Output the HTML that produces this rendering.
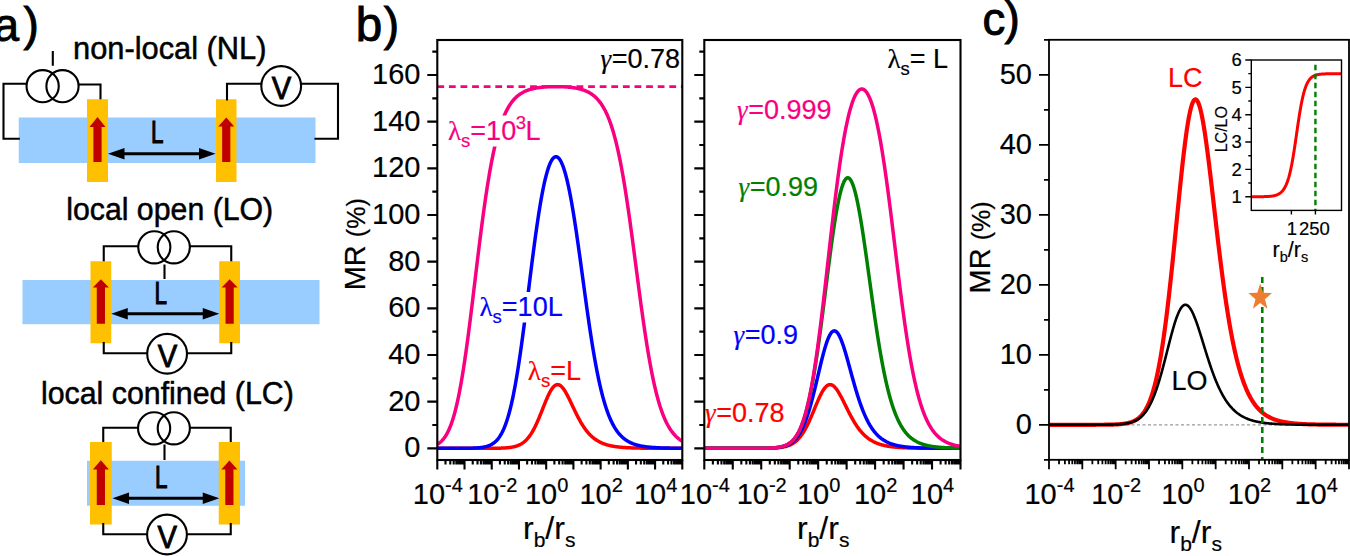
<!DOCTYPE html>
<html><head><meta charset="utf-8"><style>
html,body{margin:0;padding:0;background:#fff;}
svg{display:block;}
text{font-family:"Liberation Sans", sans-serif;}
</style></head><body>
<svg width="1350" height="556" viewBox="0 0 1350 556">
<rect width="1350" height="556" fill="#fff"/>
<rect x="18.75" y="117.5" width="296.75" height="45.5" fill="#99CCFF"/>
<path d="M26.00,83.80 L3.50,83.80 L3.50,138.80 L18.75,138.80" fill="none" stroke="#000" stroke-width="2.1" stroke-linejoin="miter" stroke-linecap="square"/>
<path d="M79.30,84.50 L100.50,84.50 L100.50,99.50" fill="none" stroke="#000" stroke-width="2.1" stroke-linejoin="miter" stroke-linecap="square"/>
<line x1="52.8" y1="51" x2="52.8" y2="65.8" stroke="#000" stroke-width="2.1"/>
<circle cx="42.65" cy="86.2" r="16.1" fill="none" stroke="#000" stroke-width="2.1"/>
<circle cx="62.5" cy="86.2" r="16.1" fill="none" stroke="#000" stroke-width="2.1"/>
<rect x="87" y="99.25" width="21" height="82.75" fill="#FFC000"/>
<path d="M93.4,162 L93.4,127 L89.5,127 L97.5,117 L105.5,127 L101.6,127 L101.6,162 Z" fill="#C00000"/>
<rect x="216" y="99.25" width="20.5" height="82.75" fill="#FFC000"/>
<path d="M222.15,162 L222.15,126.5 L218.25,126.5 L226.25,117.5 L234.25,126.5 L230.35,126.5 L230.35,162 Z" fill="#C00000"/>
<path d="M227.00,99.50 L227.00,83.80 L262.00,83.80" fill="none" stroke="#000" stroke-width="2.1" stroke-linejoin="miter" stroke-linecap="square"/>
<path d="M301.00,83.80 L338.00,83.80 L338.00,138.80 L315.50,138.80" fill="none" stroke="#000" stroke-width="2.1" stroke-linejoin="miter" stroke-linecap="square"/>
<circle cx="281.2" cy="86" r="19.9" fill="#fff" stroke="#000" stroke-width="2.1"/>
<text x="281.50" y="99.30" font-size="32" text-anchor="middle" textLength="19.5" lengthAdjust="spacingAndGlyphs" stroke="#000" stroke-width="0.9">V</text>
<text x="150.90" y="143" font-size="31.5" textLength="12.5" lengthAdjust="spacingAndGlyphs" stroke="#000" stroke-width="1.1">L</text>
<line x1="122.5" y1="153.75" x2="201.0" y2="153.75" stroke="#000" stroke-width="3.0"/>
<path d="M108,153.75 L124.5,147.95 L124.5,159.55 Z" fill="#000"/>
<path d="M215.5,153.75 L199.0,147.95 L199.0,159.55 Z" fill="#000"/>
<rect x="22.5" y="280" width="297.0" height="44.19999999999999" fill="#99CCFF"/>
<path d="M103.75,261.50 L103.75,246.30 L138.00,246.30" fill="none" stroke="#000" stroke-width="2.1" stroke-linejoin="miter" stroke-linecap="square"/>
<path d="M190.00,246.30 L231.25,246.30 L231.25,261.50" fill="none" stroke="#000" stroke-width="2.1" stroke-linejoin="miter" stroke-linecap="square"/>
<line x1="164.5" y1="264.5" x2="164.5" y2="279" stroke="#000" stroke-width="2.1"/>
<circle cx="154.3" cy="247.3" r="16.1" fill="none" stroke="#000" stroke-width="2.1"/>
<circle cx="173.8" cy="247.3" r="16.1" fill="none" stroke="#000" stroke-width="2.1"/>
<rect x="90.5" y="261.25" width="20.75" height="82.0" fill="#FFC000"/>
<path d="M96.775,323.75 L96.775,287.5 L92.875,287.5 L100.875,279.2 L108.875,287.5 L104.975,287.5 L104.975,323.75 Z" fill="#C00000"/>
<rect x="219.25" y="261.25" width="20.75" height="82.0" fill="#FFC000"/>
<path d="M225.525,323.75 L225.525,287.5 L221.625,287.5 L229.625,279.2 L237.625,287.5 L233.725,287.5 L233.725,323.75 Z" fill="#C00000"/>
<path d="M103.75,343.00 L103.75,353.30 L231.25,353.30 L231.25,343.00" fill="none" stroke="#000" stroke-width="2.1" stroke-linejoin="miter" stroke-linecap="square"/>
<circle cx="167.1" cy="353.75" r="19.9" fill="#fff" stroke="#000" stroke-width="2.1"/>
<text x="167.40" y="367.05" font-size="32" text-anchor="middle" textLength="19.5" lengthAdjust="spacingAndGlyphs" stroke="#000" stroke-width="0.9">V</text>
<text x="154.40" y="303.75" font-size="31.5" textLength="12.5" lengthAdjust="spacingAndGlyphs" stroke="#000" stroke-width="1.1">L</text>
<line x1="125.75" y1="313.75" x2="204.75" y2="313.75" stroke="#000" stroke-width="3.0"/>
<path d="M111.25,313.75 L127.75,307.95 L127.75,319.55 Z" fill="#000"/>
<path d="M219.25,313.75 L202.75,307.95 L202.75,319.55 Z" fill="#000"/>
<rect x="87" y="460.75" width="158" height="45.0" fill="#99CCFF"/>
<path d="M103.25,442.50 L103.25,427.70 L138.00,427.70" fill="none" stroke="#000" stroke-width="2.1" stroke-linejoin="miter" stroke-linecap="square"/>
<path d="M190.00,427.70 L230.75,427.70 L230.75,442.50" fill="none" stroke="#000" stroke-width="2.1" stroke-linejoin="miter" stroke-linecap="square"/>
<line x1="164.5" y1="444.5" x2="164.5" y2="460" stroke="#000" stroke-width="2.1"/>
<circle cx="154.1" cy="428.3" r="16.1" fill="none" stroke="#000" stroke-width="2.1"/>
<circle cx="173.8" cy="428.3" r="16.1" fill="none" stroke="#000" stroke-width="2.1"/>
<rect x="90" y="442" width="21.75" height="82.5" fill="#FFC000"/>
<path d="M96.775,505 L96.775,469.5 L92.875,469.5 L100.875,460.2 L108.875,469.5 L104.975,469.5 L104.975,505 Z" fill="#C00000"/>
<rect x="218.75" y="442" width="21.25" height="82.5" fill="#FFC000"/>
<path d="M225.275,505 L225.275,469.5 L221.375,469.5 L229.375,460.5 L237.375,469.5 L233.475,469.5 L233.475,505 Z" fill="#C00000"/>
<path d="M103.25,524.00 L103.25,534.30 L230.75,534.30 L230.75,524.00" fill="none" stroke="#000" stroke-width="2.1" stroke-linejoin="miter" stroke-linecap="square"/>
<circle cx="167" cy="534.5" r="19.9" fill="#fff" stroke="#000" stroke-width="2.1"/>
<text x="167.30" y="547.80" font-size="32" text-anchor="middle" textLength="19.5" lengthAdjust="spacingAndGlyphs" stroke="#000" stroke-width="0.9">V</text>
<text x="154.90" y="488.25" font-size="31.5" textLength="12.5" lengthAdjust="spacingAndGlyphs" stroke="#000" stroke-width="1.1">L</text>
<line x1="127.0" y1="498.25" x2="204.75" y2="498.25" stroke="#000" stroke-width="3.0"/>
<path d="M112.5,498.25 L129.0,492.45 L129.0,504.05 Z" fill="#000"/>
<path d="M219.25,498.25 L202.75,492.45 L202.75,504.05 Z" fill="#000"/>
<text stroke="#000" stroke-width="0.5" x="73" y="58.9" font-size="31" textLength="193.5" lengthAdjust="spacingAndGlyphs">non-local (NL)</text>
<text stroke="#000" stroke-width="0.5" x="66.2" y="220" font-size="31" textLength="207" lengthAdjust="spacingAndGlyphs">local open (LO)</text>
<text stroke="#000" stroke-width="0.5" x="41" y="403.6" font-size="31" textLength="252.8" lengthAdjust="spacingAndGlyphs">local confined (LC)</text>
<text stroke="#000" stroke-width="0.9" x="-6.3" y="40.7" font-size="45.5">a</text><text stroke="#000" stroke-width="0.9" x="23.5" y="39.6" font-size="46">)</text>
<text stroke="#000" stroke-width="0.9" x="355.7" y="40.6" font-size="47.6">b</text><text stroke="#000" stroke-width="0.9" x="383.8" y="39.6" font-size="46">)</text>
<text stroke="#000" stroke-width="0.9" x="982.6" y="34.5" font-size="45.6">c</text><text stroke="#000" stroke-width="0.9" x="1004.5" y="34" font-size="46">)</text>
<clipPath id="cb1"><rect x="437.3" y="40" width="244.99999999999994" height="420"/></clipPath>
<clipPath id="cb2"><rect x="704.3" y="40" width="256.20000000000005" height="420"/></clipPath>
<clipPath id="cc"><rect x="1049" y="39.8" width="300" height="420"/></clipPath>
<clipPath id="ci"><rect x="1251.3" y="60" width="90.20000000000005" height="150.4"/></clipPath>
<line x1="437.3" y1="86.63" x2="682.3" y2="86.63" stroke="#F80080" stroke-width="2.7" stroke-dasharray="6.8 4.8"/>
<path d="M437.30,448.33 L437.71,448.33 L438.12,448.33 L438.53,448.33 L438.94,448.33 L439.35,448.33 L439.75,448.33 L440.16,448.33 L440.57,448.33 L440.98,448.33 L441.39,448.33 L441.80,448.33 L442.21,448.33 L442.62,448.33 L443.03,448.33 L443.44,448.33 L443.84,448.33 L444.25,448.33 L444.66,448.33 L445.07,448.33 L445.48,448.33 L445.89,448.33 L446.30,448.33 L446.71,448.33 L447.12,448.33 L447.53,448.33 L447.93,448.33 L448.34,448.33 L448.75,448.33 L449.16,448.33 L449.57,448.33 L449.98,448.33 L450.39,448.33 L450.80,448.33 L451.21,448.33 L451.62,448.33 L452.02,448.33 L452.43,448.33 L452.84,448.33 L453.25,448.33 L453.66,448.33 L454.07,448.33 L454.48,448.33 L454.89,448.33 L455.30,448.33 L455.71,448.33 L456.11,448.33 L456.52,448.33 L456.93,448.33 L457.34,448.33 L457.75,448.33 L458.16,448.33 L458.57,448.33 L458.98,448.33 L459.39,448.33 L459.80,448.33 L460.20,448.33 L460.61,448.33 L461.02,448.33 L461.43,448.33 L461.84,448.33 L462.25,448.33 L462.66,448.33 L463.07,448.33 L463.48,448.33 L463.89,448.33 L464.29,448.33 L464.70,448.33 L465.11,448.33 L465.52,448.33 L465.93,448.33 L466.34,448.33 L466.75,448.33 L467.16,448.33 L467.57,448.33 L467.98,448.33 L468.39,448.33 L468.79,448.33 L469.20,448.33 L469.61,448.33 L470.02,448.33 L470.43,448.33 L470.84,448.33 L471.25,448.33 L471.66,448.33 L472.07,448.33 L472.48,448.33 L472.88,448.33 L473.29,448.33 L473.70,448.33 L474.11,448.33 L474.52,448.33 L474.93,448.33 L475.34,448.33 L475.75,448.33 L476.16,448.33 L476.57,448.33 L476.97,448.33 L477.38,448.33 L477.79,448.33 L478.20,448.33 L478.61,448.33 L479.02,448.33 L479.43,448.33 L479.84,448.33 L480.25,448.33 L480.66,448.33 L481.06,448.33 L481.47,448.32 L481.88,448.32 L482.29,448.32 L482.70,448.32 L483.11,448.32 L483.52,448.32 L483.93,448.32 L484.34,448.32 L484.75,448.32 L485.15,448.32 L485.56,448.32 L485.97,448.32 L486.38,448.31 L486.79,448.31 L487.20,448.31 L487.61,448.31 L488.02,448.31 L488.43,448.31 L488.84,448.30 L489.24,448.30 L489.65,448.30 L490.06,448.30 L490.47,448.30 L490.88,448.29 L491.29,448.29 L491.70,448.29 L492.11,448.28 L492.52,448.28 L492.93,448.28 L493.34,448.27 L493.74,448.27 L494.15,448.26 L494.56,448.26 L494.97,448.25 L495.38,448.25 L495.79,448.24 L496.20,448.24 L496.61,448.23 L497.02,448.22 L497.43,448.22 L497.83,448.21 L498.24,448.20 L498.65,448.19 L499.06,448.18 L499.47,448.17 L499.88,448.16 L500.29,448.15 L500.70,448.13 L501.11,448.12 L501.52,448.11 L501.92,448.09 L502.33,448.07 L502.74,448.06 L503.15,448.04 L503.56,448.02 L503.97,448.00 L504.38,447.97 L504.79,447.95 L505.20,447.92 L505.61,447.90 L506.01,447.87 L506.42,447.84 L506.83,447.80 L507.24,447.77 L507.65,447.73 L508.06,447.69 L508.47,447.65 L508.88,447.60 L509.29,447.56 L509.70,447.51 L510.10,447.45 L510.51,447.40 L510.92,447.34 L511.33,447.27 L511.74,447.21 L512.15,447.13 L512.56,447.06 L512.97,446.98 L513.38,446.89 L513.79,446.80 L514.19,446.71 L514.60,446.61 L515.01,446.50 L515.42,446.39 L515.83,446.27 L516.24,446.14 L516.65,446.01 L517.06,445.87 L517.47,445.72 L517.88,445.57 L518.28,445.40 L518.69,445.23 L519.10,445.05 L519.51,444.86 L519.92,444.66 L520.33,444.45 L520.74,444.23 L521.15,443.99 L521.56,443.75 L521.97,443.49 L522.38,443.22 L522.78,442.94 L523.19,442.65 L523.60,442.34 L524.01,442.02 L524.42,441.68 L524.83,441.33 L525.24,440.97 L525.65,440.58 L526.06,440.18 L526.47,439.77 L526.87,439.34 L527.28,438.89 L527.69,438.42 L528.10,437.94 L528.51,437.43 L528.92,436.91 L529.33,436.37 L529.74,435.81 L530.15,435.23 L530.56,434.63 L530.96,434.01 L531.37,433.37 L531.78,432.72 L532.19,432.04 L532.60,431.34 L533.01,430.62 L533.42,429.88 L533.83,429.12 L534.24,428.34 L534.65,427.55 L535.05,426.73 L535.46,425.89 L535.87,425.04 L536.28,424.17 L536.69,423.28 L537.10,422.38 L537.51,421.46 L537.92,420.52 L538.33,419.57 L538.74,418.61 L539.14,417.63 L539.55,416.64 L539.96,415.64 L540.37,414.64 L540.78,413.62 L541.19,412.60 L541.60,411.57 L542.01,410.54 L542.42,409.51 L542.83,408.48 L543.23,407.44 L543.64,406.41 L544.05,405.38 L544.46,404.36 L544.87,403.35 L545.28,402.34 L545.69,401.35 L546.10,400.37 L546.51,399.40 L546.92,398.45 L547.33,397.52 L547.73,396.61 L548.14,395.71 L548.55,394.85 L548.96,394.01 L549.37,393.19 L549.78,392.41 L550.19,391.65 L550.60,390.93 L551.01,390.24 L551.42,389.58 L551.82,388.96 L552.23,388.38 L552.64,387.83 L553.05,387.33 L553.46,386.87 L553.87,386.44 L554.28,386.07 L554.69,385.73 L555.10,385.44 L555.51,385.19 L555.91,384.98 L556.32,384.82 L556.73,384.71 L557.14,384.64 L557.55,384.61 L557.96,384.63 L558.37,384.69 L558.78,384.79 L559.19,384.94 L559.60,385.13 L560.00,385.36 L560.41,385.64 L560.82,385.95 L561.23,386.30 L561.64,386.69 L562.05,387.11 L562.46,387.57 L562.87,388.07 L563.28,388.59 L563.69,389.15 L564.09,389.74 L564.50,390.35 L564.91,391.00 L565.32,391.66 L565.73,392.36 L566.14,393.07 L566.55,393.80 L566.96,394.56 L567.37,395.33 L567.78,396.11 L568.18,396.91 L568.59,397.73 L569.00,398.55 L569.41,399.39 L569.82,400.23 L570.23,401.08 L570.64,401.94 L571.05,402.80 L571.46,403.67 L571.87,404.53 L572.27,405.40 L572.68,406.27 L573.09,407.14 L573.50,408.00 L573.91,408.86 L574.32,409.72 L574.73,410.57 L575.14,411.42 L575.55,412.26 L575.96,413.09 L576.37,413.92 L576.77,414.74 L577.18,415.54 L577.59,416.34 L578.00,417.13 L578.41,417.91 L578.82,418.67 L579.23,419.43 L579.64,420.17 L580.05,420.90 L580.46,421.62 L580.86,422.33 L581.27,423.02 L581.68,423.70 L582.09,424.37 L582.50,425.03 L582.91,425.67 L583.32,426.30 L583.73,426.91 L584.14,427.52 L584.55,428.11 L584.95,428.68 L585.36,429.25 L585.77,429.80 L586.18,430.33 L586.59,430.86 L587.00,431.37 L587.41,431.87 L587.82,432.36 L588.23,432.83 L588.64,433.30 L589.04,433.75 L589.45,434.19 L589.86,434.62 L590.27,435.03 L590.68,435.44 L591.09,435.84 L591.50,436.22 L591.91,436.59 L592.32,436.96 L592.73,437.31 L593.13,437.65 L593.54,437.99 L593.95,438.31 L594.36,438.63 L594.77,438.93 L595.18,439.23 L595.59,439.52 L596.00,439.80 L596.41,440.07 L596.82,440.33 L597.22,440.59 L597.63,440.84 L598.04,441.08 L598.45,441.31 L598.86,441.54 L599.27,441.76 L599.68,441.97 L600.09,442.17 L600.50,442.37 L600.91,442.57 L601.32,442.76 L601.72,442.94 L602.13,443.11 L602.54,443.28 L602.95,443.45 L603.36,443.61 L603.77,443.76 L604.18,443.91 L604.59,444.06 L605.00,444.20 L605.41,444.34 L605.81,444.47 L606.22,444.60 L606.63,444.72 L607.04,444.84 L607.45,444.96 L607.86,445.07 L608.27,445.18 L608.68,445.28 L609.09,445.38 L609.50,445.48 L609.90,445.58 L610.31,445.67 L610.72,445.76 L611.13,445.84 L611.54,445.93 L611.95,446.01 L612.36,446.08 L612.77,446.16 L613.18,446.23 L613.59,446.30 L613.99,446.37 L614.40,446.44 L614.81,446.50 L615.22,446.56 L615.63,446.62 L616.04,446.68 L616.45,446.73 L616.86,446.79 L617.27,446.84 L617.68,446.89 L618.08,446.94 L618.49,446.99 L618.90,447.03 L619.31,447.07 L619.72,447.12 L620.13,447.16 L620.54,447.20 L620.95,447.24 L621.36,447.27 L621.77,447.31 L622.17,447.34 L622.58,447.38 L622.99,447.41 L623.40,447.44 L623.81,447.47 L624.22,447.50 L624.63,447.53 L625.04,447.55 L625.45,447.58 L625.86,447.61 L626.26,447.63 L626.67,447.66 L627.08,447.68 L627.49,447.70 L627.90,447.72 L628.31,447.74 L628.72,447.76 L629.13,447.78 L629.54,447.80 L629.95,447.82 L630.36,447.84 L630.76,447.85 L631.17,447.87 L631.58,447.88 L631.99,447.90 L632.40,447.91 L632.81,447.93 L633.22,447.94 L633.63,447.96 L634.04,447.97 L634.45,447.98 L634.85,447.99 L635.26,448.00 L635.67,448.02 L636.08,448.03 L636.49,448.04 L636.90,448.05 L637.31,448.06 L637.72,448.07 L638.13,448.08 L638.54,448.08 L638.94,448.09 L639.35,448.10 L639.76,448.11 L640.17,448.12 L640.58,448.12 L640.99,448.13 L641.40,448.14 L641.81,448.14 L642.22,448.15 L642.63,448.16 L643.03,448.16 L643.44,448.17 L643.85,448.17 L644.26,448.18 L644.67,448.18 L645.08,448.19 L645.49,448.19 L645.90,448.20 L646.31,448.20 L646.72,448.21 L647.12,448.21 L647.53,448.22 L647.94,448.22 L648.35,448.22 L648.76,448.23 L649.17,448.23 L649.58,448.24 L649.99,448.24 L650.40,448.24 L650.81,448.24 L651.21,448.25 L651.62,448.25 L652.03,448.25 L652.44,448.26 L652.85,448.26 L653.26,448.26 L653.67,448.26 L654.08,448.27 L654.49,448.27 L654.90,448.27 L655.31,448.27 L655.71,448.27 L656.12,448.28 L656.53,448.28 L656.94,448.28 L657.35,448.28 L657.76,448.28 L658.17,448.29 L658.58,448.29 L658.99,448.29 L659.40,448.29 L659.80,448.29 L660.21,448.29 L660.62,448.29 L661.03,448.30 L661.44,448.30 L661.85,448.30 L662.26,448.30 L662.67,448.30 L663.08,448.30 L663.49,448.30 L663.89,448.30 L664.30,448.31 L664.71,448.31 L665.12,448.31 L665.53,448.31 L665.94,448.31 L666.35,448.31 L666.76,448.31 L667.17,448.31 L667.58,448.31 L667.98,448.31 L668.39,448.31 L668.80,448.31 L669.21,448.31 L669.62,448.32 L670.03,448.32 L670.44,448.32 L670.85,448.32 L671.26,448.32 L671.67,448.32 L672.07,448.32 L672.48,448.32 L672.89,448.32 L673.30,448.32 L673.71,448.32 L674.12,448.32 L674.53,448.32 L674.94,448.32 L675.35,448.32 L675.76,448.32 L676.16,448.32 L676.57,448.32 L676.98,448.32 L677.39,448.32 L677.80,448.32 L678.21,448.32 L678.62,448.32 L679.03,448.33 L679.44,448.33 L679.85,448.33 L680.25,448.33 L680.66,448.33 L681.07,448.33 L681.48,448.33 L681.89,448.33 L682.30,448.33" fill="none" stroke="#FF0000" stroke-width="3.5" stroke-linejoin="round" clip-path="url(#cb1)"/>
<path d="M437.30,448.33 L437.71,448.33 L438.12,448.33 L438.53,448.33 L438.94,448.33 L439.35,448.33 L439.75,448.33 L440.16,448.33 L440.57,448.33 L440.98,448.33 L441.39,448.33 L441.80,448.33 L442.21,448.33 L442.62,448.33 L443.03,448.33 L443.44,448.33 L443.84,448.33 L444.25,448.33 L444.66,448.33 L445.07,448.33 L445.48,448.33 L445.89,448.33 L446.30,448.33 L446.71,448.33 L447.12,448.33 L447.53,448.33 L447.93,448.33 L448.34,448.33 L448.75,448.33 L449.16,448.33 L449.57,448.33 L449.98,448.33 L450.39,448.33 L450.80,448.33 L451.21,448.33 L451.62,448.33 L452.02,448.33 L452.43,448.33 L452.84,448.33 L453.25,448.33 L453.66,448.32 L454.07,448.32 L454.48,448.32 L454.89,448.32 L455.30,448.32 L455.71,448.32 L456.11,448.32 L456.52,448.32 L456.93,448.32 L457.34,448.32 L457.75,448.32 L458.16,448.31 L458.57,448.31 L458.98,448.31 L459.39,448.31 L459.80,448.31 L460.20,448.31 L460.61,448.30 L461.02,448.30 L461.43,448.30 L461.84,448.30 L462.25,448.30 L462.66,448.29 L463.07,448.29 L463.48,448.29 L463.89,448.28 L464.29,448.28 L464.70,448.28 L465.11,448.27 L465.52,448.27 L465.93,448.26 L466.34,448.26 L466.75,448.25 L467.16,448.25 L467.57,448.24 L467.98,448.24 L468.39,448.23 L468.79,448.22 L469.20,448.22 L469.61,448.21 L470.02,448.20 L470.43,448.19 L470.84,448.18 L471.25,448.17 L471.66,448.16 L472.07,448.14 L472.48,448.13 L472.88,448.12 L473.29,448.10 L473.70,448.09 L474.11,448.07 L474.52,448.05 L474.93,448.03 L475.34,448.01 L475.75,447.99 L476.16,447.97 L476.57,447.94 L476.97,447.92 L477.38,447.89 L477.79,447.86 L478.20,447.83 L478.61,447.79 L479.02,447.75 L479.43,447.72 L479.84,447.67 L480.25,447.63 L480.66,447.58 L481.06,447.53 L481.47,447.48 L481.88,447.43 L482.29,447.37 L482.70,447.30 L483.11,447.23 L483.52,447.16 L483.93,447.09 L484.34,447.00 L484.75,446.92 L485.15,446.83 L485.56,446.73 L485.97,446.63 L486.38,446.52 L486.79,446.40 L487.20,446.28 L487.61,446.15 L488.02,446.01 L488.43,445.87 L488.84,445.71 L489.24,445.55 L489.65,445.38 L490.06,445.20 L490.47,445.00 L490.88,444.80 L491.29,444.58 L491.70,444.36 L492.11,444.12 L492.52,443.86 L492.93,443.60 L493.34,443.32 L493.74,443.02 L494.15,442.71 L494.56,442.38 L494.97,442.04 L495.38,441.67 L495.79,441.29 L496.20,440.89 L496.61,440.47 L497.02,440.03 L497.43,439.56 L497.83,439.07 L498.24,438.56 L498.65,438.03 L499.06,437.47 L499.47,436.88 L499.88,436.27 L500.29,435.62 L500.70,434.95 L501.11,434.25 L501.52,433.52 L501.92,432.76 L502.33,431.96 L502.74,431.13 L503.15,430.27 L503.56,429.36 L503.97,428.43 L504.38,427.45 L504.79,426.44 L505.20,425.39 L505.61,424.29 L506.01,423.16 L506.42,421.98 L506.83,420.76 L507.24,419.50 L507.65,418.19 L508.06,416.84 L508.47,415.44 L508.88,413.99 L509.29,412.50 L509.70,410.96 L510.10,409.37 L510.51,407.73 L510.92,406.04 L511.33,404.30 L511.74,402.51 L512.15,400.66 L512.56,398.77 L512.97,396.83 L513.38,394.83 L513.79,392.78 L514.19,390.68 L514.60,388.53 L515.01,386.33 L515.42,384.08 L515.83,381.77 L516.24,379.42 L516.65,377.01 L517.06,374.56 L517.47,372.06 L517.88,369.50 L518.28,366.90 L518.69,364.26 L519.10,361.57 L519.51,358.83 L519.92,356.05 L520.33,353.23 L520.74,350.37 L521.15,347.46 L521.56,344.52 L521.97,341.55 L522.38,338.54 L522.78,335.49 L523.19,332.41 L523.60,329.31 L524.01,326.18 L524.42,323.02 L524.83,319.83 L525.24,316.63 L525.65,313.41 L526.06,310.17 L526.47,306.91 L526.87,303.64 L527.28,300.37 L527.69,297.08 L528.10,293.79 L528.51,290.49 L528.92,287.20 L529.33,283.90 L529.74,280.61 L530.15,277.33 L530.56,274.05 L530.96,270.79 L531.37,267.54 L531.78,264.30 L532.19,261.09 L532.60,257.89 L533.01,254.72 L533.42,251.57 L533.83,248.45 L534.24,245.35 L534.65,242.29 L535.05,239.27 L535.46,236.27 L535.87,233.32 L536.28,230.40 L536.69,227.53 L537.10,224.69 L537.51,221.90 L537.92,219.16 L538.33,216.46 L538.74,213.82 L539.14,211.22 L539.55,208.67 L539.96,206.18 L540.37,203.74 L540.78,201.35 L541.19,199.02 L541.60,196.75 L542.01,194.53 L542.42,192.38 L542.83,190.28 L543.23,188.24 L543.64,186.26 L544.05,184.35 L544.46,182.49 L544.87,180.70 L545.28,178.97 L545.69,177.30 L546.10,175.70 L546.51,174.16 L546.92,172.69 L547.33,171.28 L547.73,169.93 L548.14,168.65 L548.55,167.43 L548.96,166.28 L549.37,165.19 L549.78,164.17 L550.19,163.22 L550.60,162.33 L551.01,161.50 L551.42,160.74 L551.82,160.05 L552.23,159.42 L552.64,158.86 L553.05,158.36 L553.46,157.93 L553.87,157.56 L554.28,157.26 L554.69,157.03 L555.10,156.86 L555.51,156.75 L555.91,156.71 L556.32,156.73 L556.73,156.82 L557.14,156.98 L557.55,157.20 L557.96,157.48 L558.37,157.83 L558.78,158.24 L559.19,158.72 L559.60,159.26 L560.00,159.86 L560.41,160.53 L560.82,161.27 L561.23,162.06 L561.64,162.92 L562.05,163.85 L562.46,164.84 L562.87,165.89 L563.28,167.00 L563.69,168.17 L564.09,169.41 L564.50,170.71 L564.91,172.07 L565.32,173.49 L565.73,174.97 L566.14,176.51 L566.55,178.12 L566.96,179.78 L567.37,181.50 L567.78,183.27 L568.18,185.11 L568.59,187.00 L569.00,188.95 L569.41,190.95 L569.82,193.00 L570.23,195.11 L570.64,197.27 L571.05,199.49 L571.46,201.75 L571.87,204.06 L572.27,206.42 L572.68,208.82 L573.09,211.27 L573.50,213.77 L573.91,216.31 L574.32,218.88 L574.73,221.50 L575.14,224.16 L575.55,226.85 L575.96,229.57 L576.37,232.33 L576.77,235.12 L577.18,237.94 L577.59,240.78 L578.00,243.65 L578.41,246.55 L578.82,249.46 L579.23,252.40 L579.64,255.35 L580.05,258.32 L580.46,261.30 L580.86,264.29 L581.27,267.29 L581.68,270.30 L582.09,273.31 L582.50,276.33 L582.91,279.35 L583.32,282.36 L583.73,285.37 L584.14,288.38 L584.55,291.38 L584.95,294.37 L585.36,297.35 L585.77,300.32 L586.18,303.27 L586.59,306.21 L587.00,309.13 L587.41,312.03 L587.82,314.90 L588.23,317.76 L588.64,320.58 L589.04,323.39 L589.45,326.16 L589.86,328.91 L590.27,331.63 L590.68,334.31 L591.09,336.97 L591.50,339.59 L591.91,342.18 L592.32,344.73 L592.73,347.24 L593.13,349.72 L593.54,352.16 L593.95,354.57 L594.36,356.93 L594.77,359.26 L595.18,361.54 L595.59,363.79 L596.00,366.00 L596.41,368.17 L596.82,370.29 L597.22,372.38 L597.63,374.42 L598.04,376.43 L598.45,378.39 L598.86,380.31 L599.27,382.19 L599.68,384.04 L600.09,385.84 L600.50,387.60 L600.91,389.32 L601.32,391.00 L601.72,392.65 L602.13,394.25 L602.54,395.82 L602.95,397.35 L603.36,398.84 L603.77,400.30 L604.18,401.72 L604.59,403.10 L605.00,404.45 L605.41,405.76 L605.81,407.04 L606.22,408.29 L606.63,409.50 L607.04,410.68 L607.45,411.83 L607.86,412.95 L608.27,414.04 L608.68,415.09 L609.09,416.12 L609.50,417.12 L609.90,418.09 L610.31,419.04 L610.72,419.95 L611.13,420.84 L611.54,421.71 L611.95,422.55 L612.36,423.36 L612.77,424.16 L613.18,424.92 L613.59,425.67 L613.99,426.39 L614.40,427.09 L614.81,427.78 L615.22,428.44 L615.63,429.08 L616.04,429.70 L616.45,430.30 L616.86,430.88 L617.27,431.45 L617.68,431.99 L618.08,432.53 L618.49,433.04 L618.90,433.54 L619.31,434.02 L619.72,434.49 L620.13,434.94 L620.54,435.38 L620.95,435.81 L621.36,436.22 L621.77,436.62 L622.17,437.00 L622.58,437.38 L622.99,437.74 L623.40,438.09 L623.81,438.43 L624.22,438.75 L624.63,439.07 L625.04,439.38 L625.45,439.67 L625.86,439.96 L626.26,440.24 L626.67,440.51 L627.08,440.77 L627.49,441.02 L627.90,441.27 L628.31,441.50 L628.72,441.73 L629.13,441.95 L629.54,442.16 L629.95,442.37 L630.36,442.57 L630.76,442.76 L631.17,442.95 L631.58,443.13 L631.99,443.30 L632.40,443.47 L632.81,443.64 L633.22,443.79 L633.63,443.95 L634.04,444.09 L634.45,444.24 L634.85,444.37 L635.26,444.51 L635.67,444.64 L636.08,444.76 L636.49,444.88 L636.90,445.00 L637.31,445.11 L637.72,445.22 L638.13,445.32 L638.54,445.42 L638.94,445.52 L639.35,445.62 L639.76,445.71 L640.17,445.80 L640.58,445.88 L640.99,445.97 L641.40,446.05 L641.81,446.12 L642.22,446.20 L642.63,446.27 L643.03,446.34 L643.44,446.41 L643.85,446.47 L644.26,446.54 L644.67,446.60 L645.08,446.66 L645.49,446.71 L645.90,446.77 L646.31,446.82 L646.72,446.87 L647.12,446.92 L647.53,446.97 L647.94,447.01 L648.35,447.06 L648.76,447.10 L649.17,447.14 L649.58,447.18 L649.99,447.22 L650.40,447.26 L650.81,447.30 L651.21,447.33 L651.62,447.37 L652.03,447.40 L652.44,447.43 L652.85,447.46 L653.26,447.49 L653.67,447.52 L654.08,447.55 L654.49,447.57 L654.90,447.60 L655.31,447.62 L655.71,447.65 L656.12,447.67 L656.53,447.69 L656.94,447.72 L657.35,447.74 L657.76,447.76 L658.17,447.78 L658.58,447.80 L658.99,447.81 L659.40,447.83 L659.80,447.85 L660.21,447.87 L660.62,447.88 L661.03,447.90 L661.44,447.91 L661.85,447.93 L662.26,447.94 L662.67,447.95 L663.08,447.97 L663.49,447.98 L663.89,447.99 L664.30,448.00 L664.71,448.01 L665.12,448.02 L665.53,448.03 L665.94,448.04 L666.35,448.05 L666.76,448.06 L667.17,448.07 L667.58,448.08 L667.98,448.09 L668.39,448.10 L668.80,448.11 L669.21,448.11 L669.62,448.12 L670.03,448.13 L670.44,448.14 L670.85,448.14 L671.26,448.15 L671.67,448.16 L672.07,448.16 L672.48,448.17 L672.89,448.17 L673.30,448.18 L673.71,448.18 L674.12,448.19 L674.53,448.19 L674.94,448.20 L675.35,448.20 L675.76,448.21 L676.16,448.21 L676.57,448.22 L676.98,448.22 L677.39,448.22 L677.80,448.23 L678.21,448.23 L678.62,448.23 L679.03,448.24 L679.44,448.24 L679.85,448.24 L680.25,448.25 L680.66,448.25 L681.07,448.25 L681.48,448.26 L681.89,448.26 L682.30,448.26" fill="none" stroke="#0000FF" stroke-width="3.5" stroke-linejoin="round" clip-path="url(#cb1)"/>
<path d="M437.30,444.32 L437.71,444.08 L438.12,443.83 L438.53,443.56 L438.94,443.27 L439.35,442.97 L439.75,442.66 L440.16,442.33 L440.57,441.98 L440.98,441.61 L441.39,441.23 L441.80,440.82 L442.21,440.40 L442.62,439.95 L443.03,439.48 L443.44,438.99 L443.84,438.48 L444.25,437.94 L444.66,437.37 L445.07,436.78 L445.48,436.16 L445.89,435.51 L446.30,434.84 L446.71,434.13 L447.12,433.39 L447.53,432.62 L447.93,431.82 L448.34,430.98 L448.75,430.11 L449.16,429.20 L449.57,428.25 L449.98,427.27 L450.39,426.25 L450.80,425.19 L451.21,424.08 L451.62,422.94 L452.02,421.75 L452.43,420.52 L452.84,419.25 L453.25,417.93 L453.66,416.56 L454.07,415.15 L454.48,413.69 L454.89,412.18 L455.30,410.62 L455.71,409.02 L456.11,407.36 L456.52,405.65 L456.93,403.89 L457.34,402.09 L457.75,400.22 L458.16,398.31 L458.57,396.35 L458.98,394.33 L459.39,392.26 L459.80,390.13 L460.20,387.96 L460.61,385.73 L461.02,383.45 L461.43,381.12 L461.84,378.73 L462.25,376.30 L462.66,373.81 L463.07,371.27 L463.48,368.69 L463.89,366.05 L464.29,363.37 L464.70,360.64 L465.11,357.86 L465.52,355.04 L465.93,352.17 L466.34,349.26 L466.75,346.31 L467.16,343.32 L467.57,340.29 L467.98,337.22 L468.39,334.12 L468.79,330.98 L469.20,327.81 L469.61,324.61 L470.02,321.39 L470.43,318.13 L470.84,314.85 L471.25,311.55 L471.66,308.23 L472.07,304.89 L472.48,301.53 L472.88,298.16 L473.29,294.78 L473.70,291.39 L474.11,287.99 L474.52,284.58 L474.93,281.17 L475.34,277.77 L475.75,274.36 L476.16,270.95 L476.57,267.55 L476.97,264.16 L477.38,260.78 L477.79,257.41 L478.20,254.06 L478.61,250.72 L479.02,247.40 L479.43,244.10 L479.84,240.82 L480.25,237.57 L480.66,234.34 L481.06,231.14 L481.47,227.97 L481.88,224.83 L482.29,221.72 L482.70,218.64 L483.11,215.60 L483.52,212.59 L483.93,209.62 L484.34,206.69 L484.75,203.80 L485.15,200.94 L485.56,198.13 L485.97,195.36 L486.38,192.64 L486.79,189.95 L487.20,187.31 L487.61,184.72 L488.02,182.17 L488.43,179.66 L488.84,177.20 L489.24,174.79 L489.65,172.42 L490.06,170.09 L490.47,167.82 L490.88,165.59 L491.29,163.40 L491.70,161.26 L492.11,159.16 L492.52,157.12 L492.93,155.11 L493.34,153.15 L493.74,151.24 L494.15,149.37 L494.56,147.54 L494.97,145.75 L495.38,144.01 L495.79,142.31 L496.20,140.66 L496.61,139.04 L497.02,137.46 L497.43,135.93 L497.83,134.43 L498.24,132.97 L498.65,131.55 L499.06,130.17 L499.47,128.82 L499.88,127.51 L500.29,126.24 L500.70,125.00 L501.11,123.79 L501.52,122.62 L501.92,121.48 L502.33,120.37 L502.74,119.30 L503.15,118.25 L503.56,117.23 L503.97,116.25 L504.38,115.29 L504.79,114.36 L505.20,113.45 L505.61,112.58 L506.01,111.73 L506.42,110.90 L506.83,110.10 L507.24,109.32 L507.65,108.57 L508.06,107.84 L508.47,107.13 L508.88,106.44 L509.29,105.78 L509.70,105.13 L510.10,104.51 L510.51,103.90 L510.92,103.31 L511.33,102.74 L511.74,102.19 L512.15,101.66 L512.56,101.14 L512.97,100.64 L513.38,100.16 L513.79,99.69 L514.19,99.23 L514.60,98.79 L515.01,98.36 L515.42,97.95 L515.83,97.55 L516.24,97.16 L516.65,96.79 L517.06,96.43 L517.47,96.08 L517.88,95.74 L518.28,95.41 L518.69,95.09 L519.10,94.79 L519.51,94.49 L519.92,94.20 L520.33,93.92 L520.74,93.65 L521.15,93.39 L521.56,93.14 L521.97,92.90 L522.38,92.67 L522.78,92.44 L523.19,92.22 L523.60,92.01 L524.01,91.80 L524.42,91.60 L524.83,91.41 L525.24,91.22 L525.65,91.05 L526.06,90.87 L526.47,90.70 L526.87,90.54 L527.28,90.39 L527.69,90.24 L528.10,90.09 L528.51,89.95 L528.92,89.81 L529.33,89.68 L529.74,89.55 L530.15,89.43 L530.56,89.31 L530.96,89.20 L531.37,89.09 L531.78,88.98 L532.19,88.88 L532.60,88.78 L533.01,88.68 L533.42,88.59 L533.83,88.50 L534.24,88.41 L534.65,88.33 L535.05,88.25 L535.46,88.17 L535.87,88.10 L536.28,88.03 L536.69,87.96 L537.10,87.89 L537.51,87.83 L537.92,87.77 L538.33,87.71 L538.74,87.65 L539.14,87.59 L539.55,87.54 L539.96,87.49 L540.37,87.44 L540.78,87.39 L541.19,87.35 L541.60,87.30 L542.01,87.26 L542.42,87.22 L542.83,87.18 L543.23,87.15 L543.64,87.11 L544.05,87.08 L544.46,87.05 L544.87,87.01 L545.28,86.99 L545.69,86.96 L546.10,86.93 L546.51,86.91 L546.92,86.88 L547.33,86.86 L547.73,86.84 L548.14,86.82 L548.55,86.80 L548.96,86.78 L549.37,86.76 L549.78,86.75 L550.19,86.73 L550.60,86.72 L551.01,86.71 L551.42,86.70 L551.82,86.69 L552.23,86.68 L552.64,86.67 L553.05,86.66 L553.46,86.65 L553.87,86.65 L554.28,86.65 L554.69,86.64 L555.10,86.64 L555.51,86.64 L555.91,86.64 L556.32,86.64 L556.73,86.64 L557.14,86.64 L557.55,86.65 L557.96,86.65 L558.37,86.66 L558.78,86.66 L559.19,86.67 L559.60,86.68 L560.00,86.69 L560.41,86.70 L560.82,86.71 L561.23,86.73 L561.64,86.74 L562.05,86.75 L562.46,86.77 L562.87,86.79 L563.28,86.81 L563.69,86.83 L564.09,86.85 L564.50,86.87 L564.91,86.89 L565.32,86.92 L565.73,86.94 L566.14,86.97 L566.55,87.00 L566.96,87.03 L567.37,87.06 L567.78,87.09 L568.18,87.13 L568.59,87.16 L569.00,87.20 L569.41,87.24 L569.82,87.28 L570.23,87.32 L570.64,87.37 L571.05,87.41 L571.46,87.46 L571.87,87.51 L572.27,87.56 L572.68,87.62 L573.09,87.67 L573.50,87.73 L573.91,87.79 L574.32,87.85 L574.73,87.92 L575.14,87.99 L575.55,88.06 L575.96,88.13 L576.37,88.20 L576.77,88.28 L577.18,88.36 L577.59,88.45 L578.00,88.54 L578.41,88.63 L578.82,88.72 L579.23,88.82 L579.64,88.92 L580.05,89.02 L580.46,89.13 L580.86,89.24 L581.27,89.36 L581.68,89.48 L582.09,89.60 L582.50,89.73 L582.91,89.86 L583.32,90.00 L583.73,90.15 L584.14,90.29 L584.55,90.45 L584.95,90.60 L585.36,90.77 L585.77,90.94 L586.18,91.11 L586.59,91.29 L587.00,91.48 L587.41,91.68 L587.82,91.88 L588.23,92.08 L588.64,92.30 L589.04,92.52 L589.45,92.75 L589.86,92.99 L590.27,93.23 L590.68,93.49 L591.09,93.75 L591.50,94.02 L591.91,94.30 L592.32,94.59 L592.73,94.89 L593.13,95.20 L593.54,95.52 L593.95,95.85 L594.36,96.19 L594.77,96.55 L595.18,96.91 L595.59,97.29 L596.00,97.68 L596.41,98.08 L596.82,98.50 L597.22,98.93 L597.63,99.37 L598.04,99.83 L598.45,100.30 L598.86,100.79 L599.27,101.29 L599.68,101.81 L600.09,102.35 L600.50,102.90 L600.91,103.47 L601.32,104.06 L601.72,104.67 L602.13,105.30 L602.54,105.95 L602.95,106.61 L603.36,107.30 L603.77,108.01 L604.18,108.74 L604.59,109.50 L605.00,110.27 L605.41,111.07 L605.81,111.90 L606.22,112.75 L606.63,113.62 L607.04,114.52 L607.45,115.45 L607.86,116.41 L608.27,117.39 L608.68,118.40 L609.09,119.44 L609.50,120.51 L609.90,121.61 L610.31,122.74 L610.72,123.91 L611.13,125.10 L611.54,126.33 L611.95,127.59 L612.36,128.89 L612.77,130.22 L613.18,131.58 L613.59,132.98 L613.99,134.42 L614.40,135.89 L614.81,137.41 L615.22,138.95 L615.63,140.54 L616.04,142.17 L616.45,143.84 L616.86,145.54 L617.27,147.29 L617.68,149.07 L618.08,150.90 L618.49,152.77 L618.90,154.68 L619.31,156.63 L619.72,158.62 L620.13,160.65 L620.54,162.73 L620.95,164.84 L621.36,167.00 L621.77,169.20 L622.17,171.45 L622.58,173.73 L622.99,176.05 L623.40,178.42 L623.81,180.82 L624.22,183.27 L624.63,185.75 L625.04,188.28 L625.45,190.84 L625.86,193.44 L626.26,196.07 L626.67,198.75 L627.08,201.45 L627.49,204.19 L627.90,206.97 L628.31,209.78 L628.72,212.61 L629.13,215.48 L629.54,218.37 L629.95,221.30 L630.36,224.24 L630.76,227.22 L631.17,230.21 L631.58,233.23 L631.99,236.26 L632.40,239.32 L632.81,242.39 L633.22,245.47 L633.63,248.57 L634.04,251.68 L634.45,254.79 L634.85,257.92 L635.26,261.05 L635.67,264.18 L636.08,267.32 L636.49,270.45 L636.90,273.58 L637.31,276.71 L637.72,279.84 L638.13,282.95 L638.54,286.06 L638.94,289.15 L639.35,292.23 L639.76,295.30 L640.17,298.35 L640.58,301.39 L640.99,304.40 L641.40,307.39 L641.81,310.36 L642.22,313.30 L642.63,316.22 L643.03,319.11 L643.44,321.97 L643.85,324.81 L644.26,327.61 L644.67,330.38 L645.08,333.11 L645.49,335.82 L645.90,338.48 L646.31,341.11 L646.72,343.71 L647.12,346.26 L647.53,348.78 L647.94,351.26 L648.35,353.70 L648.76,356.10 L649.17,358.46 L649.58,360.78 L649.99,363.05 L650.40,365.29 L650.81,367.48 L651.21,369.63 L651.62,371.75 L652.03,373.81 L652.44,375.84 L652.85,377.83 L653.26,379.77 L653.67,381.67 L654.08,383.54 L654.49,385.36 L654.90,387.14 L655.31,388.88 L655.71,390.58 L656.12,392.24 L656.53,393.86 L656.94,395.44 L657.35,396.98 L657.76,398.49 L658.17,399.96 L658.58,401.39 L658.99,402.79 L659.40,404.15 L659.80,405.47 L660.21,406.76 L660.62,408.02 L661.03,409.24 L661.44,410.43 L661.85,411.59 L662.26,412.72 L662.67,413.81 L663.08,414.88 L663.49,415.91 L663.89,416.92 L664.30,417.90 L664.71,418.85 L665.12,419.77 L665.53,420.67 L665.94,421.54 L666.35,422.39 L666.76,423.21 L667.17,424.01 L667.58,424.78 L667.98,425.53 L668.39,426.26 L668.80,426.96 L669.21,427.65 L669.62,428.31 L670.03,428.96 L670.44,429.58 L670.85,430.19 L671.26,430.78 L671.67,431.34 L672.07,431.90 L672.48,432.43 L672.89,432.95 L673.30,433.45 L673.71,433.94 L674.12,434.41 L674.53,434.86 L674.94,435.30 L675.35,435.73 L675.76,436.15 L676.16,436.55 L676.57,436.94 L676.98,437.31 L677.39,437.67 L677.80,438.03 L678.21,438.37 L678.62,438.70 L679.03,439.02 L679.44,439.33 L679.85,439.62 L680.25,439.91 L680.66,440.19 L681.07,440.46 L681.48,440.73 L681.89,440.98 L682.30,441.23" fill="none" stroke="#F80080" stroke-width="3.5" stroke-linejoin="round" clip-path="url(#cb1)"/>
<rect x="437.3" y="40" width="244.99999999999994" height="420" fill="none" stroke="#000" stroke-width="2.1"/>
<path d="M437.30,460 L437.30,469.5 M445.49,460 L445.49,464.5 M450.29,460 L450.29,464.5 M453.69,460 L453.69,464.5 M456.33,460 L456.33,464.5 M458.48,460 L458.48,464.5 M460.31,460 L460.31,464.5 M461.88,460 L461.88,464.5 M463.28,460 L463.28,464.5 M464.52,460 L464.52,469.5 M472.72,460 L472.72,464.5 M477.51,460 L477.51,464.5 M480.91,460 L480.91,464.5 M483.55,460 L483.55,464.5 M485.71,460 L485.71,464.5 M487.53,460 L487.53,464.5 M489.11,460 L489.11,464.5 M490.50,460 L490.50,464.5 M491.74,460 L491.74,469.5 M499.94,460 L499.94,464.5 M504.73,460 L504.73,464.5 M508.13,460 L508.13,464.5 M510.77,460 L510.77,464.5 M512.93,460 L512.93,464.5 M514.75,460 L514.75,464.5 M516.33,460 L516.33,464.5 M517.72,460 L517.72,464.5 M518.97,460 L518.97,469.5 M527.16,460 L527.16,464.5 M531.95,460 L531.95,464.5 M535.36,460 L535.36,464.5 M537.99,460 L537.99,464.5 M540.15,460 L540.15,464.5 M541.97,460 L541.97,464.5 M543.55,460 L543.55,464.5 M544.94,460 L544.94,464.5 M546.19,460 L546.19,469.5 M554.38,460 L554.38,464.5 M559.18,460 L559.18,464.5 M562.58,460 L562.58,464.5 M565.22,460 L565.22,464.5 M567.37,460 L567.37,464.5 M569.19,460 L569.19,464.5 M570.77,460 L570.77,464.5 M572.17,460 L572.17,464.5 M573.41,460 L573.41,469.5 M581.61,460 L581.61,464.5 M586.40,460 L586.40,464.5 M589.80,460 L589.80,464.5 M592.44,460 L592.44,464.5 M594.59,460 L594.59,464.5 M596.42,460 L596.42,464.5 M598.00,460 L598.00,464.5 M599.39,460 L599.39,464.5 M600.63,460 L600.63,469.5 M608.83,460 L608.83,464.5 M613.62,460 L613.62,464.5 M617.02,460 L617.02,464.5 M619.66,460 L619.66,464.5 M621.82,460 L621.82,464.5 M623.64,460 L623.64,464.5 M625.22,460 L625.22,464.5 M626.61,460 L626.61,464.5 M627.86,460 L627.86,469.5 M636.05,460 L636.05,464.5 M640.84,460 L640.84,464.5 M644.24,460 L644.24,464.5 M646.88,460 L646.88,464.5 M649.04,460 L649.04,464.5 M650.86,460 L650.86,464.5 M652.44,460 L652.44,464.5 M653.83,460 L653.83,464.5 M655.08,460 L655.08,469.5 M663.27,460 L663.27,464.5 M668.07,460 L668.07,464.5 M671.47,460 L671.47,464.5 M674.11,460 L674.11,464.5 M676.26,460 L676.26,464.5 M678.08,460 L678.08,464.5 M679.66,460 L679.66,464.5 M681.05,460 L681.05,464.5 M682.30,460 L682.30,469.5" stroke="#000" stroke-width="2.1" fill="none"/>
<path d="M437.3,448.33 L427.3,448.33 M437.3,401.67 L427.3,401.67 M437.3,355.00 L427.3,355.00 M437.3,308.33 L427.3,308.33 M437.3,261.67 L427.3,261.67 M437.3,215.00 L427.3,215.00 M437.3,168.33 L427.3,168.33 M437.3,121.67 L427.3,121.67 M437.3,75.00 L427.3,75.00 M437.3,425.00 L432.3,425.00 M437.3,378.33 L432.3,378.33 M437.3,331.67 L432.3,331.67 M437.3,285.00 L432.3,285.00 M437.3,238.33 L432.3,238.33 M437.3,191.67 L432.3,191.67 M437.3,145.00 L432.3,145.00 M437.3,98.33 L432.3,98.33 M437.3,51.67 L432.3,51.67" stroke="#000" stroke-width="2.1" fill="none"/>
<text stroke="#000" stroke-width="0.2" x="420.5" y="457.33" font-size="29" text-anchor="end">0</text>
<text stroke="#000" stroke-width="0.2" x="420.5" y="410.67" font-size="29" text-anchor="end">20</text>
<text stroke="#000" stroke-width="0.2" x="420.5" y="364.00" font-size="29" text-anchor="end">40</text>
<text stroke="#000" stroke-width="0.2" x="420.5" y="317.33" font-size="29" text-anchor="end">60</text>
<text stroke="#000" stroke-width="0.2" x="420.5" y="270.67" font-size="29" text-anchor="end">80</text>
<text stroke="#000" stroke-width="0.2" x="420.5" y="224.00" font-size="29" text-anchor="end">100</text>
<text stroke="#000" stroke-width="0.2" x="420.5" y="177.33" font-size="29" text-anchor="end">120</text>
<text stroke="#000" stroke-width="0.2" x="420.5" y="130.67" font-size="29" text-anchor="end">140</text>
<text stroke="#000" stroke-width="0.2" x="420.5" y="84.00" font-size="29" text-anchor="end">160</text>
<text stroke="#000" stroke-width="0.2" x="437.80" y="503.7" font-size="29" text-anchor="middle">10<tspan font-size="20" dy="-12">-4</tspan></text>
<text stroke="#000" stroke-width="0.2" x="492.24" y="503.7" font-size="29" text-anchor="middle">10<tspan font-size="20" dy="-12">-2</tspan></text>
<text stroke="#000" stroke-width="0.2" x="546.69" y="503.7" font-size="29" text-anchor="middle">10<tspan font-size="20" dy="-12">0</tspan></text>
<text stroke="#000" stroke-width="0.2" x="601.13" y="503.7" font-size="29" text-anchor="middle">10<tspan font-size="20" dy="-12">2</tspan></text>
<text stroke="#000" stroke-width="0.2" x="655.58" y="503.7" font-size="29" text-anchor="middle">10<tspan font-size="20" dy="-12">4</tspan></text>
<text stroke="#000" stroke-width="0.2" x="523" y="539" font-size="32">r<tspan font-size="21" dy="7.5">b</tspan><tspan dy="-7.5">/r</tspan><tspan font-size="21" dy="7.5">s</tspan></text>
<text stroke="#000" stroke-width="0.2" transform="translate(365,290.3) rotate(-90)" font-size="29">MR <tspan font-size="25">(%)</tspan></text>
<text stroke="#000" stroke-width="0.2" x="680" y="68.3" font-size="27" text-anchor="end"><tspan font-family="Liberation Serif" font-style="italic">γ</tspan><tspan dx="0.5">=</tspan>0.78</text>
<rect x="446" y="115.5" width="95" height="31.0" fill="#fff"/>
<text stroke="#F80080" stroke-width="0.2" x="448" y="139.7" font-size="27" fill="#F80080"><tspan font-family="Liberation Serif">λ</tspan><tspan font-size="18.5" dy="6.8">s</tspan><tspan dy="-6.8">=10</tspan><tspan font-size="18.5" dy="-10.5" dx="-0.5">3</tspan><tspan dy="10.5" dx="-0.5">L</tspan></text>
<rect x="477" y="292" width="85" height="30.5" fill="#fff"/>
<text stroke="#0000FF" stroke-width="0.2" x="479.5" y="316.3" font-size="27" fill="#0000FF"><tspan font-family="Liberation Serif">λ</tspan><tspan font-size="18.5" dy="6.8">s</tspan><tspan dy="-6.8">=10L</tspan></text>
<text stroke="#FF0000" stroke-width="0.2" x="527.8" y="379.7" font-size="27" fill="#FF0000"><tspan font-family="Liberation Serif">λ</tspan><tspan font-size="18.5" dy="6.8">s</tspan><tspan dy="-6.8">=L</tspan></text>
<path d="M704.30,448.33 L704.73,448.33 L705.16,448.33 L705.58,448.33 L706.01,448.33 L706.44,448.33 L706.87,448.33 L707.29,448.33 L707.72,448.33 L708.15,448.33 L708.58,448.33 L709.00,448.33 L709.43,448.33 L709.86,448.33 L710.29,448.33 L710.72,448.33 L711.14,448.33 L711.57,448.33 L712.00,448.33 L712.43,448.33 L712.85,448.33 L713.28,448.33 L713.71,448.33 L714.14,448.33 L714.57,448.33 L714.99,448.33 L715.42,448.33 L715.85,448.33 L716.28,448.33 L716.70,448.33 L717.13,448.33 L717.56,448.33 L717.99,448.33 L718.41,448.33 L718.84,448.33 L719.27,448.33 L719.70,448.33 L720.13,448.33 L720.55,448.33 L720.98,448.33 L721.41,448.33 L721.84,448.33 L722.26,448.33 L722.69,448.33 L723.12,448.33 L723.55,448.33 L723.97,448.33 L724.40,448.33 L724.83,448.33 L725.26,448.33 L725.69,448.33 L726.11,448.33 L726.54,448.33 L726.97,448.33 L727.40,448.33 L727.82,448.33 L728.25,448.33 L728.68,448.33 L729.11,448.33 L729.54,448.33 L729.96,448.33 L730.39,448.33 L730.82,448.33 L731.25,448.33 L731.67,448.33 L732.10,448.33 L732.53,448.33 L732.96,448.33 L733.38,448.33 L733.81,448.33 L734.24,448.33 L734.67,448.33 L735.10,448.33 L735.52,448.33 L735.95,448.33 L736.38,448.33 L736.81,448.33 L737.23,448.33 L737.66,448.33 L738.09,448.33 L738.52,448.33 L738.94,448.33 L739.37,448.33 L739.80,448.33 L740.23,448.33 L740.66,448.33 L741.08,448.33 L741.51,448.33 L741.94,448.33 L742.37,448.33 L742.79,448.33 L743.22,448.33 L743.65,448.33 L744.08,448.33 L744.51,448.33 L744.93,448.33 L745.36,448.33 L745.79,448.33 L746.22,448.33 L746.64,448.33 L747.07,448.33 L747.50,448.33 L747.93,448.33 L748.35,448.33 L748.78,448.33 L749.21,448.33 L749.64,448.33 L750.07,448.33 L750.49,448.32 L750.92,448.32 L751.35,448.32 L751.78,448.32 L752.20,448.32 L752.63,448.32 L753.06,448.32 L753.49,448.32 L753.91,448.32 L754.34,448.32 L754.77,448.32 L755.20,448.32 L755.63,448.31 L756.05,448.31 L756.48,448.31 L756.91,448.31 L757.34,448.31 L757.76,448.31 L758.19,448.30 L758.62,448.30 L759.05,448.30 L759.47,448.30 L759.90,448.30 L760.33,448.29 L760.76,448.29 L761.19,448.29 L761.61,448.28 L762.04,448.28 L762.47,448.28 L762.90,448.27 L763.32,448.27 L763.75,448.26 L764.18,448.26 L764.61,448.25 L765.04,448.25 L765.46,448.24 L765.89,448.24 L766.32,448.23 L766.75,448.22 L767.17,448.22 L767.60,448.21 L768.03,448.20 L768.46,448.19 L768.88,448.18 L769.31,448.17 L769.74,448.16 L770.17,448.15 L770.60,448.13 L771.02,448.12 L771.45,448.11 L771.88,448.09 L772.31,448.07 L772.73,448.06 L773.16,448.04 L773.59,448.02 L774.02,448.00 L774.44,447.97 L774.87,447.95 L775.30,447.92 L775.73,447.90 L776.16,447.87 L776.58,447.84 L777.01,447.80 L777.44,447.77 L777.87,447.73 L778.29,447.69 L778.72,447.65 L779.15,447.60 L779.58,447.56 L780.01,447.51 L780.43,447.45 L780.86,447.40 L781.29,447.34 L781.72,447.27 L782.14,447.21 L782.57,447.13 L783.00,447.06 L783.43,446.98 L783.85,446.89 L784.28,446.80 L784.71,446.71 L785.14,446.61 L785.57,446.50 L785.99,446.39 L786.42,446.27 L786.85,446.14 L787.28,446.01 L787.70,445.87 L788.13,445.72 L788.56,445.57 L788.99,445.40 L789.41,445.23 L789.84,445.05 L790.27,444.86 L790.70,444.66 L791.13,444.45 L791.55,444.23 L791.98,443.99 L792.41,443.75 L792.84,443.49 L793.26,443.22 L793.69,442.94 L794.12,442.65 L794.55,442.34 L794.98,442.02 L795.40,441.68 L795.83,441.33 L796.26,440.97 L796.69,440.58 L797.11,440.18 L797.54,439.77 L797.97,439.34 L798.40,438.89 L798.82,438.42 L799.25,437.94 L799.68,437.43 L800.11,436.91 L800.54,436.37 L800.96,435.81 L801.39,435.23 L801.82,434.63 L802.25,434.01 L802.67,433.37 L803.10,432.72 L803.53,432.04 L803.96,431.34 L804.38,430.62 L804.81,429.88 L805.24,429.12 L805.67,428.34 L806.10,427.55 L806.52,426.73 L806.95,425.89 L807.38,425.04 L807.81,424.17 L808.23,423.28 L808.66,422.38 L809.09,421.46 L809.52,420.52 L809.95,419.57 L810.37,418.61 L810.80,417.63 L811.23,416.64 L811.66,415.64 L812.08,414.64 L812.51,413.62 L812.94,412.60 L813.37,411.57 L813.79,410.54 L814.22,409.51 L814.65,408.48 L815.08,407.44 L815.51,406.41 L815.93,405.38 L816.36,404.36 L816.79,403.35 L817.22,402.34 L817.64,401.35 L818.07,400.37 L818.50,399.40 L818.93,398.45 L819.35,397.52 L819.78,396.61 L820.21,395.71 L820.64,394.85 L821.07,394.01 L821.49,393.19 L821.92,392.41 L822.35,391.65 L822.78,390.93 L823.20,390.24 L823.63,389.58 L824.06,388.96 L824.49,388.38 L824.92,387.83 L825.34,387.33 L825.77,386.87 L826.20,386.44 L826.63,386.07 L827.05,385.73 L827.48,385.44 L827.91,385.19 L828.34,384.98 L828.76,384.82 L829.19,384.71 L829.62,384.64 L830.05,384.61 L830.48,384.63 L830.90,384.69 L831.33,384.79 L831.76,384.94 L832.19,385.13 L832.61,385.36 L833.04,385.64 L833.47,385.95 L833.90,386.30 L834.32,386.69 L834.75,387.11 L835.18,387.57 L835.61,388.07 L836.04,388.59 L836.46,389.15 L836.89,389.74 L837.32,390.35 L837.75,391.00 L838.17,391.66 L838.60,392.36 L839.03,393.07 L839.46,393.80 L839.88,394.56 L840.31,395.33 L840.74,396.11 L841.17,396.91 L841.60,397.73 L842.02,398.55 L842.45,399.39 L842.88,400.23 L843.31,401.08 L843.73,401.94 L844.16,402.80 L844.59,403.67 L845.02,404.53 L845.45,405.40 L845.87,406.27 L846.30,407.14 L846.73,408.00 L847.16,408.86 L847.58,409.72 L848.01,410.57 L848.44,411.42 L848.87,412.26 L849.29,413.09 L849.72,413.92 L850.15,414.74 L850.58,415.54 L851.01,416.34 L851.43,417.13 L851.86,417.91 L852.29,418.67 L852.72,419.43 L853.14,420.17 L853.57,420.90 L854.00,421.62 L854.43,422.33 L854.85,423.02 L855.28,423.70 L855.71,424.37 L856.14,425.03 L856.57,425.67 L856.99,426.30 L857.42,426.91 L857.85,427.52 L858.28,428.11 L858.70,428.68 L859.13,429.25 L859.56,429.80 L859.99,430.33 L860.42,430.86 L860.84,431.37 L861.27,431.87 L861.70,432.36 L862.13,432.83 L862.55,433.30 L862.98,433.75 L863.41,434.19 L863.84,434.62 L864.26,435.03 L864.69,435.44 L865.12,435.84 L865.55,436.22 L865.98,436.59 L866.40,436.96 L866.83,437.31 L867.26,437.65 L867.69,437.99 L868.11,438.31 L868.54,438.63 L868.97,438.93 L869.40,439.23 L869.82,439.52 L870.25,439.80 L870.68,440.07 L871.11,440.33 L871.54,440.59 L871.96,440.84 L872.39,441.08 L872.82,441.31 L873.25,441.54 L873.67,441.76 L874.10,441.97 L874.53,442.17 L874.96,442.37 L875.39,442.57 L875.81,442.76 L876.24,442.94 L876.67,443.11 L877.10,443.28 L877.52,443.45 L877.95,443.61 L878.38,443.76 L878.81,443.91 L879.23,444.06 L879.66,444.20 L880.09,444.34 L880.52,444.47 L880.95,444.60 L881.37,444.72 L881.80,444.84 L882.23,444.96 L882.66,445.07 L883.08,445.18 L883.51,445.28 L883.94,445.38 L884.37,445.48 L884.79,445.58 L885.22,445.67 L885.65,445.76 L886.08,445.84 L886.51,445.93 L886.93,446.01 L887.36,446.08 L887.79,446.16 L888.22,446.23 L888.64,446.30 L889.07,446.37 L889.50,446.44 L889.93,446.50 L890.36,446.56 L890.78,446.62 L891.21,446.68 L891.64,446.73 L892.07,446.79 L892.49,446.84 L892.92,446.89 L893.35,446.94 L893.78,446.99 L894.20,447.03 L894.63,447.07 L895.06,447.12 L895.49,447.16 L895.92,447.20 L896.34,447.24 L896.77,447.27 L897.20,447.31 L897.63,447.34 L898.05,447.38 L898.48,447.41 L898.91,447.44 L899.34,447.47 L899.76,447.50 L900.19,447.53 L900.62,447.55 L901.05,447.58 L901.48,447.61 L901.90,447.63 L902.33,447.66 L902.76,447.68 L903.19,447.70 L903.61,447.72 L904.04,447.74 L904.47,447.76 L904.90,447.78 L905.33,447.80 L905.75,447.82 L906.18,447.84 L906.61,447.85 L907.04,447.87 L907.46,447.88 L907.89,447.90 L908.32,447.91 L908.75,447.93 L909.17,447.94 L909.60,447.96 L910.03,447.97 L910.46,447.98 L910.89,447.99 L911.31,448.00 L911.74,448.02 L912.17,448.03 L912.60,448.04 L913.02,448.05 L913.45,448.06 L913.88,448.07 L914.31,448.08 L914.73,448.08 L915.16,448.09 L915.59,448.10 L916.02,448.11 L916.45,448.12 L916.87,448.12 L917.30,448.13 L917.73,448.14 L918.16,448.14 L918.58,448.15 L919.01,448.16 L919.44,448.16 L919.87,448.17 L920.29,448.17 L920.72,448.18 L921.15,448.18 L921.58,448.19 L922.01,448.19 L922.43,448.20 L922.86,448.20 L923.29,448.21 L923.72,448.21 L924.14,448.22 L924.57,448.22 L925.00,448.22 L925.43,448.23 L925.86,448.23 L926.28,448.24 L926.71,448.24 L927.14,448.24 L927.57,448.24 L927.99,448.25 L928.42,448.25 L928.85,448.25 L929.28,448.26 L929.70,448.26 L930.13,448.26 L930.56,448.26 L930.99,448.27 L931.42,448.27 L931.84,448.27 L932.27,448.27 L932.70,448.27 L933.13,448.28 L933.55,448.28 L933.98,448.28 L934.41,448.28 L934.84,448.28 L935.26,448.29 L935.69,448.29 L936.12,448.29 L936.55,448.29 L936.98,448.29 L937.40,448.29 L937.83,448.29 L938.26,448.30 L938.69,448.30 L939.11,448.30 L939.54,448.30 L939.97,448.30 L940.40,448.30 L940.83,448.30 L941.25,448.30 L941.68,448.31 L942.11,448.31 L942.54,448.31 L942.96,448.31 L943.39,448.31 L943.82,448.31 L944.25,448.31 L944.67,448.31 L945.10,448.31 L945.53,448.31 L945.96,448.31 L946.39,448.31 L946.81,448.31 L947.24,448.32 L947.67,448.32 L948.10,448.32 L948.52,448.32 L948.95,448.32 L949.38,448.32 L949.81,448.32 L950.23,448.32 L950.66,448.32 L951.09,448.32 L951.52,448.32 L951.95,448.32 L952.37,448.32 L952.80,448.32 L953.23,448.32 L953.66,448.32 L954.08,448.32 L954.51,448.32 L954.94,448.32 L955.37,448.32 L955.80,448.32 L956.22,448.32 L956.65,448.32 L957.08,448.33 L957.51,448.33 L957.93,448.33 L958.36,448.33 L958.79,448.33 L959.22,448.33 L959.64,448.33 L960.07,448.33 L960.50,448.33" fill="none" stroke="#FF0000" stroke-width="3.5" stroke-linejoin="round" clip-path="url(#cb2)"/>
<path d="M704.30,448.33 L704.73,448.33 L705.16,448.33 L705.58,448.33 L706.01,448.33 L706.44,448.33 L706.87,448.33 L707.29,448.33 L707.72,448.33 L708.15,448.33 L708.58,448.33 L709.00,448.33 L709.43,448.33 L709.86,448.33 L710.29,448.33 L710.72,448.33 L711.14,448.33 L711.57,448.33 L712.00,448.33 L712.43,448.33 L712.85,448.33 L713.28,448.33 L713.71,448.33 L714.14,448.33 L714.57,448.33 L714.99,448.33 L715.42,448.33 L715.85,448.33 L716.28,448.33 L716.70,448.33 L717.13,448.33 L717.56,448.33 L717.99,448.33 L718.41,448.33 L718.84,448.33 L719.27,448.33 L719.70,448.33 L720.13,448.33 L720.55,448.33 L720.98,448.33 L721.41,448.33 L721.84,448.33 L722.26,448.33 L722.69,448.33 L723.12,448.33 L723.55,448.33 L723.97,448.33 L724.40,448.33 L724.83,448.33 L725.26,448.33 L725.69,448.33 L726.11,448.33 L726.54,448.33 L726.97,448.33 L727.40,448.33 L727.82,448.33 L728.25,448.33 L728.68,448.33 L729.11,448.33 L729.54,448.33 L729.96,448.33 L730.39,448.33 L730.82,448.33 L731.25,448.33 L731.67,448.33 L732.10,448.33 L732.53,448.33 L732.96,448.33 L733.38,448.33 L733.81,448.33 L734.24,448.33 L734.67,448.33 L735.10,448.33 L735.52,448.33 L735.95,448.33 L736.38,448.33 L736.81,448.33 L737.23,448.33 L737.66,448.33 L738.09,448.33 L738.52,448.33 L738.94,448.33 L739.37,448.33 L739.80,448.33 L740.23,448.33 L740.66,448.33 L741.08,448.33 L741.51,448.33 L741.94,448.33 L742.37,448.33 L742.79,448.33 L743.22,448.33 L743.65,448.33 L744.08,448.33 L744.51,448.33 L744.93,448.33 L745.36,448.33 L745.79,448.33 L746.22,448.33 L746.64,448.33 L747.07,448.33 L747.50,448.33 L747.93,448.33 L748.35,448.33 L748.78,448.32 L749.21,448.32 L749.64,448.32 L750.07,448.32 L750.49,448.32 L750.92,448.32 L751.35,448.32 L751.78,448.32 L752.20,448.32 L752.63,448.32 L753.06,448.32 L753.49,448.32 L753.91,448.31 L754.34,448.31 L754.77,448.31 L755.20,448.31 L755.63,448.31 L756.05,448.31 L756.48,448.30 L756.91,448.30 L757.34,448.30 L757.76,448.30 L758.19,448.30 L758.62,448.29 L759.05,448.29 L759.47,448.29 L759.90,448.28 L760.33,448.28 L760.76,448.28 L761.19,448.27 L761.61,448.27 L762.04,448.26 L762.47,448.26 L762.90,448.25 L763.32,448.25 L763.75,448.24 L764.18,448.24 L764.61,448.23 L765.04,448.22 L765.46,448.21 L765.89,448.21 L766.32,448.20 L766.75,448.19 L767.17,448.18 L767.60,448.17 L768.03,448.15 L768.46,448.14 L768.88,448.13 L769.31,448.12 L769.74,448.10 L770.17,448.08 L770.60,448.07 L771.02,448.05 L771.45,448.03 L771.88,448.01 L772.31,447.99 L772.73,447.96 L773.16,447.94 L773.59,447.91 L774.02,447.88 L774.44,447.85 L774.87,447.82 L775.30,447.79 L775.73,447.75 L776.16,447.71 L776.58,447.67 L777.01,447.63 L777.44,447.58 L777.87,447.53 L778.29,447.48 L778.72,447.42 L779.15,447.36 L779.58,447.30 L780.01,447.23 L780.43,447.16 L780.86,447.08 L781.29,447.00 L781.72,446.92 L782.14,446.83 L782.57,446.73 L783.00,446.63 L783.43,446.52 L783.85,446.41 L784.28,446.29 L784.71,446.16 L785.14,446.03 L785.57,445.88 L785.99,445.73 L786.42,445.57 L786.85,445.40 L787.28,445.23 L787.70,445.04 L788.13,444.84 L788.56,444.63 L788.99,444.41 L789.41,444.18 L789.84,443.93 L790.27,443.68 L790.70,443.41 L791.13,443.12 L791.55,442.82 L791.98,442.51 L792.41,442.18 L792.84,441.83 L793.26,441.46 L793.69,441.08 L794.12,440.68 L794.55,440.26 L794.98,439.82 L795.40,439.36 L795.83,438.88 L796.26,438.38 L796.69,437.86 L797.11,437.31 L797.54,436.74 L797.97,436.14 L798.40,435.52 L798.82,434.87 L799.25,434.20 L799.68,433.50 L800.11,432.77 L800.54,432.02 L800.96,431.23 L801.39,430.42 L801.82,429.57 L802.25,428.70 L802.67,427.79 L803.10,426.85 L803.53,425.88 L803.96,424.88 L804.38,423.85 L804.81,422.78 L805.24,421.68 L805.67,420.55 L806.10,419.38 L806.52,418.18 L806.95,416.95 L807.38,415.68 L807.81,414.39 L808.23,413.05 L808.66,411.69 L809.09,410.29 L809.52,408.87 L809.95,407.41 L810.37,405.92 L810.80,404.40 L811.23,402.85 L811.66,401.28 L812.08,399.68 L812.51,398.05 L812.94,396.40 L813.37,394.72 L813.79,393.02 L814.22,391.31 L814.65,389.57 L815.08,387.82 L815.51,386.05 L815.93,384.27 L816.36,382.48 L816.79,380.67 L817.22,378.87 L817.64,377.05 L818.07,375.24 L818.50,373.43 L818.93,371.61 L819.35,369.81 L819.78,368.01 L820.21,366.22 L820.64,364.45 L821.07,362.69 L821.49,360.96 L821.92,359.24 L822.35,357.55 L822.78,355.89 L823.20,354.26 L823.63,352.66 L824.06,351.10 L824.49,349.58 L824.92,348.10 L825.34,346.67 L825.77,345.28 L826.20,343.95 L826.63,342.67 L827.05,341.44 L827.48,340.27 L827.91,339.16 L828.34,338.12 L828.76,337.14 L829.19,336.22 L829.62,335.37 L830.05,334.59 L830.48,333.88 L830.90,333.25 L831.33,332.69 L831.76,332.20 L832.19,331.78 L832.61,331.45 L833.04,331.18 L833.47,331.00 L833.90,330.89 L834.32,330.86 L834.75,330.90 L835.18,331.01 L835.61,331.21 L836.04,331.47 L836.46,331.81 L836.89,332.22 L837.32,332.70 L837.75,333.25 L838.17,333.86 L838.60,334.55 L839.03,335.29 L839.46,336.10 L839.88,336.97 L840.31,337.89 L840.74,338.87 L841.17,339.90 L841.60,340.99 L842.02,342.12 L842.45,343.30 L842.88,344.52 L843.31,345.78 L843.73,347.08 L844.16,348.41 L844.59,349.78 L845.02,351.18 L845.45,352.60 L845.87,354.05 L846.30,355.52 L846.73,357.02 L847.16,358.53 L847.58,360.06 L848.01,361.59 L848.44,363.14 L848.87,364.70 L849.29,366.27 L849.72,367.84 L850.15,369.41 L850.58,370.98 L851.01,372.55 L851.43,374.12 L851.86,375.68 L852.29,377.23 L852.72,378.78 L853.14,380.31 L853.57,381.84 L854.00,383.35 L854.43,384.85 L854.85,386.34 L855.28,387.81 L855.71,389.26 L856.14,390.69 L856.57,392.11 L856.99,393.51 L857.42,394.88 L857.85,396.24 L858.28,397.58 L858.70,398.89 L859.13,400.18 L859.56,401.45 L859.99,402.70 L860.42,403.92 L860.84,405.12 L861.27,406.30 L861.70,407.46 L862.13,408.59 L862.55,409.69 L862.98,410.78 L863.41,411.84 L863.84,412.87 L864.26,413.89 L864.69,414.88 L865.12,415.85 L865.55,416.79 L865.98,417.71 L866.40,418.61 L866.83,419.49 L867.26,420.35 L867.69,421.18 L868.11,422.00 L868.54,422.79 L868.97,423.56 L869.40,424.31 L869.82,425.04 L870.25,425.75 L870.68,426.45 L871.11,427.12 L871.54,427.77 L871.96,428.41 L872.39,429.03 L872.82,429.63 L873.25,430.22 L873.67,430.79 L874.10,431.34 L874.53,431.87 L874.96,432.39 L875.39,432.90 L875.81,433.39 L876.24,433.86 L876.67,434.33 L877.10,434.77 L877.52,435.21 L877.95,435.63 L878.38,436.04 L878.81,436.44 L879.23,436.82 L879.66,437.19 L880.09,437.55 L880.52,437.90 L880.95,438.24 L881.37,438.57 L881.80,438.89 L882.23,439.20 L882.66,439.50 L883.08,439.79 L883.51,440.07 L883.94,440.34 L884.37,440.60 L884.79,440.85 L885.22,441.10 L885.65,441.34 L886.08,441.57 L886.51,441.79 L886.93,442.01 L887.36,442.22 L887.79,442.42 L888.22,442.62 L888.64,442.81 L889.07,442.99 L889.50,443.17 L889.93,443.34 L890.36,443.51 L890.78,443.67 L891.21,443.82 L891.64,443.97 L892.07,444.12 L892.49,444.26 L892.92,444.40 L893.35,444.53 L893.78,444.66 L894.20,444.78 L894.63,444.90 L895.06,445.01 L895.49,445.12 L895.92,445.23 L896.34,445.34 L896.77,445.44 L897.20,445.53 L897.63,445.63 L898.05,445.72 L898.48,445.81 L898.91,445.89 L899.34,445.97 L899.76,446.05 L900.19,446.13 L900.62,446.20 L901.05,446.28 L901.48,446.35 L901.90,446.41 L902.33,446.48 L902.76,446.54 L903.19,446.60 L903.61,446.66 L904.04,446.72 L904.47,446.77 L904.90,446.82 L905.33,446.87 L905.75,446.92 L906.18,446.97 L906.61,447.02 L907.04,447.06 L907.46,447.10 L907.89,447.15 L908.32,447.19 L908.75,447.23 L909.17,447.26 L909.60,447.30 L910.03,447.33 L910.46,447.37 L910.89,447.40 L911.31,447.43 L911.74,447.46 L912.17,447.49 L912.60,447.52 L913.02,447.55 L913.45,447.57 L913.88,447.60 L914.31,447.63 L914.73,447.65 L915.16,447.67 L915.59,447.69 L916.02,447.72 L916.45,447.74 L916.87,447.76 L917.30,447.78 L917.73,447.80 L918.16,447.81 L918.58,447.83 L919.01,447.85 L919.44,447.87 L919.87,447.88 L920.29,447.90 L920.72,447.91 L921.15,447.93 L921.58,447.94 L922.01,447.95 L922.43,447.97 L922.86,447.98 L923.29,447.99 L923.72,448.00 L924.14,448.01 L924.57,448.02 L925.00,448.03 L925.43,448.04 L925.86,448.05 L926.28,448.06 L926.71,448.07 L927.14,448.08 L927.57,448.09 L927.99,448.10 L928.42,448.11 L928.85,448.11 L929.28,448.12 L929.70,448.13 L930.13,448.14 L930.56,448.14 L930.99,448.15 L931.42,448.16 L931.84,448.16 L932.27,448.17 L932.70,448.17 L933.13,448.18 L933.55,448.18 L933.98,448.19 L934.41,448.19 L934.84,448.20 L935.26,448.20 L935.69,448.21 L936.12,448.21 L936.55,448.22 L936.98,448.22 L937.40,448.22 L937.83,448.23 L938.26,448.23 L938.69,448.23 L939.11,448.24 L939.54,448.24 L939.97,448.24 L940.40,448.25 L940.83,448.25 L941.25,448.25 L941.68,448.26 L942.11,448.26 L942.54,448.26 L942.96,448.26 L943.39,448.27 L943.82,448.27 L944.25,448.27 L944.67,448.27 L945.10,448.27 L945.53,448.28 L945.96,448.28 L946.39,448.28 L946.81,448.28 L947.24,448.28 L947.67,448.29 L948.10,448.29 L948.52,448.29 L948.95,448.29 L949.38,448.29 L949.81,448.29 L950.23,448.29 L950.66,448.30 L951.09,448.30 L951.52,448.30 L951.95,448.30 L952.37,448.30 L952.80,448.30 L953.23,448.30 L953.66,448.30 L954.08,448.30 L954.51,448.31 L954.94,448.31 L955.37,448.31 L955.80,448.31 L956.22,448.31 L956.65,448.31 L957.08,448.31 L957.51,448.31 L957.93,448.31 L958.36,448.31 L958.79,448.31 L959.22,448.31 L959.64,448.32 L960.07,448.32 L960.50,448.32" fill="none" stroke="#0000FF" stroke-width="3.5" stroke-linejoin="round" clip-path="url(#cb2)"/>
<path d="M704.30,448.33 L704.73,448.33 L705.16,448.33 L705.58,448.33 L706.01,448.33 L706.44,448.33 L706.87,448.33 L707.29,448.33 L707.72,448.33 L708.15,448.33 L708.58,448.33 L709.00,448.33 L709.43,448.33 L709.86,448.33 L710.29,448.33 L710.72,448.33 L711.14,448.33 L711.57,448.33 L712.00,448.33 L712.43,448.33 L712.85,448.33 L713.28,448.33 L713.71,448.33 L714.14,448.33 L714.57,448.33 L714.99,448.33 L715.42,448.33 L715.85,448.33 L716.28,448.33 L716.70,448.33 L717.13,448.33 L717.56,448.33 L717.99,448.33 L718.41,448.33 L718.84,448.33 L719.27,448.33 L719.70,448.33 L720.13,448.33 L720.55,448.33 L720.98,448.33 L721.41,448.33 L721.84,448.33 L722.26,448.33 L722.69,448.33 L723.12,448.33 L723.55,448.33 L723.97,448.33 L724.40,448.33 L724.83,448.33 L725.26,448.33 L725.69,448.33 L726.11,448.33 L726.54,448.33 L726.97,448.33 L727.40,448.33 L727.82,448.33 L728.25,448.33 L728.68,448.33 L729.11,448.33 L729.54,448.33 L729.96,448.33 L730.39,448.33 L730.82,448.33 L731.25,448.33 L731.67,448.33 L732.10,448.33 L732.53,448.33 L732.96,448.33 L733.38,448.33 L733.81,448.33 L734.24,448.33 L734.67,448.33 L735.10,448.33 L735.52,448.33 L735.95,448.33 L736.38,448.33 L736.81,448.33 L737.23,448.33 L737.66,448.33 L738.09,448.33 L738.52,448.33 L738.94,448.33 L739.37,448.33 L739.80,448.33 L740.23,448.33 L740.66,448.33 L741.08,448.33 L741.51,448.33 L741.94,448.33 L742.37,448.33 L742.79,448.33 L743.22,448.33 L743.65,448.33 L744.08,448.33 L744.51,448.33 L744.93,448.33 L745.36,448.33 L745.79,448.33 L746.22,448.33 L746.64,448.33 L747.07,448.33 L747.50,448.33 L747.93,448.32 L748.35,448.32 L748.78,448.32 L749.21,448.32 L749.64,448.32 L750.07,448.32 L750.49,448.32 L750.92,448.32 L751.35,448.32 L751.78,448.32 L752.20,448.32 L752.63,448.31 L753.06,448.31 L753.49,448.31 L753.91,448.31 L754.34,448.31 L754.77,448.31 L755.20,448.30 L755.63,448.30 L756.05,448.30 L756.48,448.30 L756.91,448.30 L757.34,448.29 L757.76,448.29 L758.19,448.29 L758.62,448.28 L759.05,448.28 L759.47,448.28 L759.90,448.27 L760.33,448.27 L760.76,448.26 L761.19,448.26 L761.61,448.25 L762.04,448.25 L762.47,448.24 L762.90,448.24 L763.32,448.23 L763.75,448.22 L764.18,448.21 L764.61,448.21 L765.04,448.20 L765.46,448.19 L765.89,448.18 L766.32,448.17 L766.75,448.16 L767.17,448.14 L767.60,448.13 L768.03,448.12 L768.46,448.10 L768.88,448.09 L769.31,448.07 L769.74,448.05 L770.17,448.03 L770.60,448.01 L771.02,447.99 L771.45,447.97 L771.88,447.94 L772.31,447.91 L772.73,447.89 L773.16,447.86 L773.59,447.82 L774.02,447.79 L774.44,447.75 L774.87,447.71 L775.30,447.67 L775.73,447.63 L776.16,447.58 L776.58,447.53 L777.01,447.48 L777.44,447.42 L777.87,447.36 L778.29,447.30 L778.72,447.23 L779.15,447.16 L779.58,447.08 L780.01,447.00 L780.43,446.91 L780.86,446.82 L781.29,446.72 L781.72,446.62 L782.14,446.51 L782.57,446.39 L783.00,446.27 L783.43,446.14 L783.85,446.00 L784.28,445.85 L784.71,445.70 L785.14,445.53 L785.57,445.36 L785.99,445.18 L786.42,444.98 L786.85,444.78 L787.28,444.56 L787.70,444.33 L788.13,444.09 L788.56,443.83 L788.99,443.57 L789.41,443.28 L789.84,442.98 L790.27,442.67 L790.70,442.34 L791.13,441.99 L791.55,441.62 L791.98,441.23 L792.41,440.83 L792.84,440.40 L793.26,439.95 L793.69,439.48 L794.12,438.99 L794.55,438.47 L794.98,437.93 L795.40,437.36 L795.83,436.76 L796.26,436.14 L796.69,435.49 L797.11,434.81 L797.54,434.10 L797.97,433.35 L798.40,432.58 L798.82,431.77 L799.25,430.92 L799.68,430.04 L800.11,429.12 L800.54,428.17 L800.96,427.18 L801.39,426.14 L801.82,425.07 L802.25,423.95 L802.67,422.80 L803.10,421.59 L803.53,420.35 L803.96,419.05 L804.38,417.72 L804.81,416.33 L805.24,414.90 L805.67,413.42 L806.10,411.88 L806.52,410.30 L806.95,408.67 L807.38,406.98 L807.81,405.25 L808.23,403.46 L808.66,401.62 L809.09,399.72 L809.52,397.77 L809.95,395.77 L810.37,393.71 L810.80,391.60 L811.23,389.43 L811.66,387.21 L812.08,384.93 L812.51,382.60 L812.94,380.21 L813.37,377.78 L813.79,375.28 L814.22,372.74 L814.65,370.14 L815.08,367.49 L815.51,364.80 L815.93,362.05 L816.36,359.25 L816.79,356.41 L817.22,353.51 L817.64,350.58 L818.07,347.60 L818.50,344.58 L818.93,341.52 L819.35,338.42 L819.78,335.28 L820.21,332.11 L820.64,328.90 L821.07,325.66 L821.49,322.40 L821.92,319.11 L822.35,315.80 L822.78,312.46 L823.20,309.11 L823.63,305.73 L824.06,302.35 L824.49,298.96 L824.92,295.55 L825.34,292.15 L825.77,288.74 L826.20,285.33 L826.63,281.92 L827.05,278.52 L827.48,275.14 L827.91,271.76 L828.34,268.40 L828.76,265.06 L829.19,261.75 L829.62,258.46 L830.05,255.20 L830.48,251.97 L830.90,248.77 L831.33,245.61 L831.76,242.50 L832.19,239.43 L832.61,236.40 L833.04,233.43 L833.47,230.50 L833.90,227.64 L834.32,224.83 L834.75,222.08 L835.18,219.40 L835.61,216.78 L836.04,214.23 L836.46,211.75 L836.89,209.35 L837.32,207.01 L837.75,204.76 L838.17,202.59 L838.60,200.50 L839.03,198.49 L839.46,196.56 L839.88,194.72 L840.31,192.97 L840.74,191.31 L841.17,189.75 L841.60,188.27 L842.02,186.89 L842.45,185.60 L842.88,184.41 L843.31,183.31 L843.73,182.31 L844.16,181.41 L844.59,180.61 L845.02,179.90 L845.45,179.30 L845.87,178.80 L846.30,178.40 L846.73,178.09 L847.16,177.89 L847.58,177.79 L848.01,177.79 L848.44,177.89 L848.87,178.09 L849.29,178.39 L849.72,178.78 L850.15,179.28 L850.58,179.87 L851.01,180.57 L851.43,181.35 L851.86,182.24 L852.29,183.22 L852.72,184.29 L853.14,185.45 L853.57,186.71 L854.00,188.05 L854.43,189.48 L854.85,191.00 L855.28,192.61 L855.71,194.29 L856.14,196.06 L856.57,197.91 L856.99,199.84 L857.42,201.84 L857.85,203.92 L858.28,206.07 L858.70,208.29 L859.13,210.57 L859.56,212.92 L859.99,215.34 L860.42,217.81 L860.84,220.34 L861.27,222.93 L861.70,225.57 L862.13,228.25 L862.55,230.99 L862.98,233.77 L863.41,236.59 L863.84,239.45 L864.26,242.35 L864.69,245.27 L865.12,248.23 L865.55,251.22 L865.98,254.23 L866.40,257.26 L866.83,260.32 L867.26,263.38 L867.69,266.47 L868.11,269.56 L868.54,272.66 L868.97,275.76 L869.40,278.87 L869.82,281.98 L870.25,285.08 L870.68,288.19 L871.11,291.28 L871.54,294.36 L871.96,297.43 L872.39,300.49 L872.82,303.53 L873.25,306.55 L873.67,309.56 L874.10,312.54 L874.53,315.49 L874.96,318.42 L875.39,321.32 L875.81,324.20 L876.24,327.04 L876.67,329.85 L877.10,332.63 L877.52,335.37 L877.95,338.07 L878.38,340.74 L878.81,343.38 L879.23,345.97 L879.66,348.52 L880.09,351.04 L880.52,353.51 L880.95,355.95 L881.37,358.34 L881.80,360.68 L882.23,362.99 L882.66,365.25 L883.08,367.48 L883.51,369.65 L883.94,371.79 L884.37,373.88 L884.79,375.93 L885.22,377.93 L885.65,379.89 L886.08,381.81 L886.51,383.69 L886.93,385.53 L887.36,387.32 L887.79,389.07 L888.22,390.78 L888.64,392.45 L889.07,394.08 L889.50,395.67 L889.93,397.22 L890.36,398.74 L890.78,400.21 L891.21,401.65 L891.64,403.05 L892.07,404.41 L892.49,405.74 L892.92,407.03 L893.35,408.29 L893.78,409.51 L894.20,410.70 L894.63,411.86 L895.06,412.99 L895.49,414.08 L895.92,415.14 L896.34,416.18 L896.77,417.18 L897.20,418.16 L897.63,419.11 L898.05,420.03 L898.48,420.92 L898.91,421.79 L899.34,422.63 L899.76,423.45 L900.19,424.24 L900.62,425.01 L901.05,425.76 L901.48,426.48 L901.90,427.18 L902.33,427.87 L902.76,428.53 L903.19,429.17 L903.61,429.79 L904.04,430.39 L904.47,430.97 L904.90,431.54 L905.33,432.08 L905.75,432.61 L906.18,433.13 L906.61,433.62 L907.04,434.11 L907.46,434.57 L907.89,435.02 L908.32,435.46 L908.75,435.88 L909.17,436.29 L909.60,436.69 L910.03,437.08 L910.46,437.45 L910.89,437.81 L911.31,438.16 L911.74,438.49 L912.17,438.82 L912.60,439.14 L913.02,439.44 L913.45,439.74 L913.88,440.02 L914.31,440.30 L914.73,440.57 L915.16,440.83 L915.59,441.08 L916.02,441.32 L916.45,441.55 L916.87,441.78 L917.30,442.00 L917.73,442.21 L918.16,442.42 L918.58,442.61 L919.01,442.81 L919.44,442.99 L919.87,443.17 L920.29,443.34 L920.72,443.51 L921.15,443.67 L921.58,443.83 L922.01,443.98 L922.43,444.13 L922.86,444.27 L923.29,444.41 L923.72,444.54 L924.14,444.67 L924.57,444.79 L925.00,444.91 L925.43,445.02 L925.86,445.14 L926.28,445.24 L926.71,445.35 L927.14,445.45 L927.57,445.55 L927.99,445.64 L928.42,445.73 L928.85,445.82 L929.28,445.90 L929.70,445.99 L930.13,446.07 L930.56,446.14 L930.99,446.22 L931.42,446.29 L931.84,446.36 L932.27,446.42 L932.70,446.49 L933.13,446.55 L933.55,446.61 L933.98,446.67 L934.41,446.73 L934.84,446.78 L935.26,446.83 L935.69,446.88 L936.12,446.93 L936.55,446.98 L936.98,447.03 L937.40,447.07 L937.83,447.11 L938.26,447.15 L938.69,447.19 L939.11,447.23 L939.54,447.27 L939.97,447.31 L940.40,447.34 L940.83,447.38 L941.25,447.41 L941.68,447.44 L942.11,447.47 L942.54,447.50 L942.96,447.53 L943.39,447.55 L943.82,447.58 L944.25,447.61 L944.67,447.63 L945.10,447.65 L945.53,447.68 L945.96,447.70 L946.39,447.72 L946.81,447.74 L947.24,447.76 L947.67,447.78 L948.10,447.80 L948.52,447.82 L948.95,447.84 L949.38,447.85 L949.81,447.87 L950.23,447.89 L950.66,447.90 L951.09,447.92 L951.52,447.93 L951.95,447.94 L952.37,447.96 L952.80,447.97 L953.23,447.98 L953.66,447.99 L954.08,448.00 L954.51,448.02 L954.94,448.03 L955.37,448.04 L955.80,448.05 L956.22,448.06 L956.65,448.07 L957.08,448.08 L957.51,448.08 L957.93,448.09 L958.36,448.10 L958.79,448.11 L959.22,448.12 L959.64,448.12 L960.07,448.13 L960.50,448.14" fill="none" stroke="#008000" stroke-width="3.5" stroke-linejoin="round" clip-path="url(#cb2)"/>
<path d="M704.30,448.33 L704.73,448.33 L705.16,448.33 L705.58,448.33 L706.01,448.33 L706.44,448.33 L706.87,448.33 L707.29,448.33 L707.72,448.33 L708.15,448.33 L708.58,448.33 L709.00,448.33 L709.43,448.33 L709.86,448.33 L710.29,448.33 L710.72,448.33 L711.14,448.33 L711.57,448.33 L712.00,448.33 L712.43,448.33 L712.85,448.33 L713.28,448.33 L713.71,448.33 L714.14,448.33 L714.57,448.33 L714.99,448.33 L715.42,448.33 L715.85,448.33 L716.28,448.33 L716.70,448.33 L717.13,448.33 L717.56,448.33 L717.99,448.33 L718.41,448.33 L718.84,448.33 L719.27,448.33 L719.70,448.33 L720.13,448.33 L720.55,448.33 L720.98,448.33 L721.41,448.33 L721.84,448.33 L722.26,448.33 L722.69,448.33 L723.12,448.33 L723.55,448.33 L723.97,448.33 L724.40,448.33 L724.83,448.33 L725.26,448.33 L725.69,448.33 L726.11,448.33 L726.54,448.33 L726.97,448.33 L727.40,448.33 L727.82,448.33 L728.25,448.33 L728.68,448.33 L729.11,448.33 L729.54,448.33 L729.96,448.33 L730.39,448.33 L730.82,448.33 L731.25,448.33 L731.67,448.33 L732.10,448.33 L732.53,448.33 L732.96,448.33 L733.38,448.33 L733.81,448.33 L734.24,448.33 L734.67,448.33 L735.10,448.33 L735.52,448.33 L735.95,448.33 L736.38,448.33 L736.81,448.33 L737.23,448.33 L737.66,448.33 L738.09,448.33 L738.52,448.33 L738.94,448.33 L739.37,448.33 L739.80,448.33 L740.23,448.33 L740.66,448.33 L741.08,448.33 L741.51,448.33 L741.94,448.33 L742.37,448.33 L742.79,448.33 L743.22,448.33 L743.65,448.33 L744.08,448.33 L744.51,448.33 L744.93,448.33 L745.36,448.33 L745.79,448.33 L746.22,448.33 L746.64,448.33 L747.07,448.33 L747.50,448.32 L747.93,448.32 L748.35,448.32 L748.78,448.32 L749.21,448.32 L749.64,448.32 L750.07,448.32 L750.49,448.32 L750.92,448.32 L751.35,448.32 L751.78,448.32 L752.20,448.32 L752.63,448.31 L753.06,448.31 L753.49,448.31 L753.91,448.31 L754.34,448.31 L754.77,448.31 L755.20,448.30 L755.63,448.30 L756.05,448.30 L756.48,448.30 L756.91,448.30 L757.34,448.29 L757.76,448.29 L758.19,448.29 L758.62,448.28 L759.05,448.28 L759.47,448.28 L759.90,448.27 L760.33,448.27 L760.76,448.26 L761.19,448.26 L761.61,448.25 L762.04,448.25 L762.47,448.24 L762.90,448.23 L763.32,448.23 L763.75,448.22 L764.18,448.21 L764.61,448.20 L765.04,448.20 L765.46,448.19 L765.89,448.18 L766.32,448.16 L766.75,448.15 L767.17,448.14 L767.60,448.13 L768.03,448.11 L768.46,448.10 L768.88,448.08 L769.31,448.06 L769.74,448.05 L770.17,448.03 L770.60,448.01 L771.02,447.98 L771.45,447.96 L771.88,447.93 L772.31,447.91 L772.73,447.88 L773.16,447.85 L773.59,447.81 L774.02,447.78 L774.44,447.74 L774.87,447.70 L775.30,447.66 L775.73,447.62 L776.16,447.57 L776.58,447.52 L777.01,447.46 L777.44,447.40 L777.87,447.34 L778.29,447.28 L778.72,447.21 L779.15,447.14 L779.58,447.06 L780.01,446.97 L780.43,446.89 L780.86,446.79 L781.29,446.69 L781.72,446.59 L782.14,446.48 L782.57,446.36 L783.00,446.23 L783.43,446.10 L783.85,445.96 L784.28,445.81 L784.71,445.65 L785.14,445.48 L785.57,445.31 L785.99,445.12 L786.42,444.92 L786.85,444.71 L787.28,444.49 L787.70,444.26 L788.13,444.01 L788.56,443.75 L788.99,443.48 L789.41,443.19 L789.84,442.88 L790.27,442.56 L790.70,442.22 L791.13,441.87 L791.55,441.49 L791.98,441.10 L792.41,440.68 L792.84,440.25 L793.26,439.79 L793.69,439.31 L794.12,438.81 L794.55,438.28 L794.98,437.73 L795.40,437.15 L795.83,436.54 L796.26,435.90 L796.69,435.24 L797.11,434.54 L797.54,433.81 L797.97,433.05 L798.40,432.26 L798.82,431.43 L799.25,430.57 L799.68,429.67 L800.11,428.73 L800.54,427.76 L800.96,426.74 L801.39,425.68 L801.82,424.58 L802.25,423.44 L802.67,422.25 L803.10,421.02 L803.53,419.74 L803.96,418.42 L804.38,417.05 L804.81,415.63 L805.24,414.15 L805.67,412.63 L806.10,411.06 L806.52,409.43 L806.95,407.75 L807.38,406.02 L807.81,404.23 L808.23,402.39 L808.66,400.49 L809.09,398.54 L809.52,396.53 L809.95,394.46 L810.37,392.33 L810.80,390.15 L811.23,387.90 L811.66,385.60 L812.08,383.24 L812.51,380.83 L812.94,378.35 L813.37,375.82 L813.79,373.23 L814.22,370.58 L814.65,367.87 L815.08,365.11 L815.51,362.29 L815.93,359.41 L816.36,356.48 L816.79,353.50 L817.22,350.46 L817.64,347.38 L818.07,344.24 L818.50,341.05 L818.93,337.81 L819.35,334.53 L819.78,331.20 L820.21,327.83 L820.64,324.41 L821.07,320.96 L821.49,317.47 L821.92,313.94 L822.35,310.38 L822.78,306.78 L823.20,303.15 L823.63,299.50 L824.06,295.82 L824.49,292.11 L824.92,288.39 L825.34,284.65 L825.77,280.89 L826.20,277.11 L826.63,273.33 L827.05,269.53 L827.48,265.74 L827.91,261.93 L828.34,258.13 L828.76,254.32 L829.19,250.53 L829.62,246.73 L830.05,242.95 L830.48,239.18 L830.90,235.42 L831.33,231.68 L831.76,227.96 L832.19,224.26 L832.61,220.58 L833.04,216.93 L833.47,213.31 L833.90,209.72 L834.32,206.16 L834.75,202.64 L835.18,199.15 L835.61,195.70 L836.04,192.29 L836.46,188.92 L836.89,185.60 L837.32,182.32 L837.75,179.09 L838.17,175.90 L838.60,172.77 L839.03,169.68 L839.46,166.65 L839.88,163.67 L840.31,160.74 L840.74,157.87 L841.17,155.06 L841.60,152.30 L842.02,149.59 L842.45,146.95 L842.88,144.36 L843.31,141.84 L843.73,139.37 L844.16,136.96 L844.59,134.61 L845.02,132.32 L845.45,130.09 L845.87,127.93 L846.30,125.82 L846.73,123.77 L847.16,121.79 L847.58,119.86 L848.01,118.00 L848.44,116.19 L848.87,114.45 L849.29,112.77 L849.72,111.14 L850.15,109.58 L850.58,108.07 L851.01,106.63 L851.43,105.24 L851.86,103.92 L852.29,102.65 L852.72,101.44 L853.14,100.29 L853.57,99.19 L854.00,98.15 L854.43,97.17 L854.85,96.25 L855.28,95.38 L855.71,94.57 L856.14,93.82 L856.57,93.12 L856.99,92.47 L857.42,91.89 L857.85,91.35 L858.28,90.87 L858.70,90.45 L859.13,90.08 L859.56,89.77 L859.99,89.50 L860.42,89.30 L860.84,89.14 L861.27,89.05 L861.70,89.00 L862.13,89.01 L862.55,89.07 L862.98,89.19 L863.41,89.35 L863.84,89.58 L864.26,89.85 L864.69,90.19 L865.12,90.57 L865.55,91.01 L865.98,91.50 L866.40,92.05 L866.83,92.65 L867.26,93.30 L867.69,94.01 L868.11,94.78 L868.54,95.60 L868.97,96.47 L869.40,97.40 L869.82,98.39 L870.25,99.43 L870.68,100.53 L871.11,101.68 L871.54,102.89 L871.96,104.16 L872.39,105.48 L872.82,106.86 L873.25,108.29 L873.67,109.79 L874.10,111.33 L874.53,112.94 L874.96,114.61 L875.39,116.33 L875.81,118.11 L876.24,119.94 L876.67,121.84 L877.10,123.79 L877.52,125.79 L877.95,127.86 L878.38,129.98 L878.81,132.15 L879.23,134.38 L879.66,136.67 L880.09,139.02 L880.52,141.41 L880.95,143.87 L881.37,146.37 L881.80,148.93 L882.23,151.54 L882.66,154.20 L883.08,156.91 L883.51,159.67 L883.94,162.48 L884.37,165.34 L884.79,168.25 L885.22,171.19 L885.65,174.19 L886.08,177.22 L886.51,180.30 L886.93,183.41 L887.36,186.57 L887.79,189.76 L888.22,192.98 L888.64,196.24 L889.07,199.53 L889.50,202.85 L889.93,206.20 L890.36,209.57 L890.78,212.96 L891.21,216.38 L891.64,219.81 L892.07,223.27 L892.49,226.73 L892.92,230.22 L893.35,233.71 L893.78,237.21 L894.20,240.71 L894.63,244.22 L895.06,247.74 L895.49,251.25 L895.92,254.76 L896.34,258.26 L896.77,261.76 L897.20,265.25 L897.63,268.73 L898.05,272.19 L898.48,275.64 L898.91,279.07 L899.34,282.48 L899.76,285.87 L900.19,289.24 L900.62,292.58 L901.05,295.90 L901.48,299.19 L901.90,302.44 L902.33,305.67 L902.76,308.86 L903.19,312.02 L903.61,315.14 L904.04,318.23 L904.47,321.28 L904.90,324.28 L905.33,327.25 L905.75,330.18 L906.18,333.06 L906.61,335.90 L907.04,338.70 L907.46,341.45 L907.89,344.16 L908.32,346.82 L908.75,349.44 L909.17,352.01 L909.60,354.53 L910.03,357.01 L910.46,359.44 L910.89,361.82 L911.31,364.16 L911.74,366.45 L912.17,368.69 L912.60,370.89 L913.02,373.04 L913.45,375.14 L913.88,377.20 L914.31,379.21 L914.73,381.17 L915.16,383.09 L915.59,384.97 L916.02,386.80 L916.45,388.58 L916.87,390.33 L917.30,392.03 L917.73,393.69 L918.16,395.31 L918.58,396.88 L919.01,398.42 L919.44,399.92 L919.87,401.37 L920.29,402.79 L920.72,404.17 L921.15,405.52 L921.58,406.83 L922.01,408.10 L922.43,409.34 L922.86,410.54 L923.29,411.71 L923.72,412.85 L924.14,413.95 L924.57,415.03 L925.00,416.07 L925.43,417.08 L925.86,418.07 L926.28,419.02 L926.71,419.95 L927.14,420.85 L927.57,421.73 L927.99,422.57 L928.42,423.40 L928.85,424.19 L929.28,424.97 L929.70,425.72 L930.13,426.45 L930.56,427.15 L930.99,427.84 L931.42,428.50 L931.84,429.14 L932.27,429.77 L932.70,430.37 L933.13,430.96 L933.55,431.52 L933.98,432.07 L934.41,432.60 L934.84,433.12 L935.26,433.62 L935.69,434.10 L936.12,434.57 L936.55,435.02 L936.98,435.46 L937.40,435.88 L937.83,436.29 L938.26,436.69 L938.69,437.08 L939.11,437.45 L939.54,437.81 L939.97,438.16 L940.40,438.50 L940.83,438.82 L941.25,439.14 L941.68,439.45 L942.11,439.74 L942.54,440.03 L942.96,440.30 L943.39,440.57 L943.82,440.83 L944.25,441.08 L944.67,441.32 L945.10,441.56 L945.53,441.79 L945.96,442.00 L946.39,442.22 L946.81,442.42 L947.24,442.62 L947.67,442.81 L948.10,443.00 L948.52,443.18 L948.95,443.35 L949.38,443.52 L949.81,443.68 L950.23,443.84 L950.66,443.99 L951.09,444.13 L951.52,444.27 L951.95,444.41 L952.37,444.54 L952.80,444.67 L953.23,444.79 L953.66,444.91 L954.08,445.03 L954.51,445.14 L954.94,445.25 L955.37,445.35 L955.80,445.45 L956.22,445.55 L956.65,445.64 L957.08,445.74 L957.51,445.82 L957.93,445.91 L958.36,445.99 L958.79,446.07 L959.22,446.15 L959.64,446.22 L960.07,446.29 L960.50,446.36" fill="none" stroke="#F80080" stroke-width="3.5" stroke-linejoin="round" clip-path="url(#cb2)"/>
<rect x="704.3" y="40" width="256.20000000000005" height="420" fill="none" stroke="#000" stroke-width="2.1"/>
<path d="M704.30,460 L704.30,469.5 M712.87,460 L712.87,464.5 M717.88,460 L717.88,464.5 M721.44,460 L721.44,464.5 M724.20,460 L724.20,464.5 M726.45,460 L726.45,464.5 M728.36,460 L728.36,464.5 M730.01,460 L730.01,464.5 M731.46,460 L731.46,464.5 M732.77,460 L732.77,469.5 M741.34,460 L741.34,464.5 M746.35,460 L746.35,464.5 M749.91,460 L749.91,464.5 M752.66,460 L752.66,464.5 M754.92,460 L754.92,464.5 M756.82,460 L756.82,464.5 M758.47,460 L758.47,464.5 M759.93,460 L759.93,464.5 M761.23,460 L761.23,469.5 M769.80,460 L769.80,464.5 M774.82,460 L774.82,464.5 M778.37,460 L778.37,464.5 M781.13,460 L781.13,464.5 M783.38,460 L783.38,464.5 M785.29,460 L785.29,464.5 M786.94,460 L786.94,464.5 M788.40,460 L788.40,464.5 M789.70,460 L789.70,469.5 M798.27,460 L798.27,464.5 M803.28,460 L803.28,464.5 M806.84,460 L806.84,464.5 M809.60,460 L809.60,464.5 M811.85,460 L811.85,464.5 M813.76,460 L813.76,464.5 M815.41,460 L815.41,464.5 M816.86,460 L816.86,464.5 M818.17,460 L818.17,469.5 M826.74,460 L826.74,464.5 M831.75,460 L831.75,464.5 M835.31,460 L835.31,464.5 M838.06,460 L838.06,464.5 M840.32,460 L840.32,464.5 M842.22,460 L842.22,464.5 M843.87,460 L843.87,464.5 M845.33,460 L845.33,464.5 M846.63,460 L846.63,469.5 M855.20,460 L855.20,464.5 M860.22,460 L860.22,464.5 M863.77,460 L863.77,464.5 M866.53,460 L866.53,464.5 M868.78,460 L868.78,464.5 M870.69,460 L870.69,464.5 M872.34,460 L872.34,464.5 M873.80,460 L873.80,464.5 M875.10,460 L875.10,469.5 M883.67,460 L883.67,464.5 M888.68,460 L888.68,464.5 M892.24,460 L892.24,464.5 M895.00,460 L895.00,464.5 M897.25,460 L897.25,464.5 M899.16,460 L899.16,464.5 M900.81,460 L900.81,464.5 M902.26,460 L902.26,464.5 M903.57,460 L903.57,469.5 M912.14,460 L912.14,464.5 M917.15,460 L917.15,464.5 M920.71,460 L920.71,464.5 M923.46,460 L923.46,464.5 M925.72,460 L925.72,464.5 M927.62,460 L927.62,464.5 M929.27,460 L929.27,464.5 M930.73,460 L930.73,464.5 M932.03,460 L932.03,469.5 M940.60,460 L940.60,464.5 M945.62,460 L945.62,464.5 M949.17,460 L949.17,464.5 M951.93,460 L951.93,464.5 M954.18,460 L954.18,464.5 M956.09,460 L956.09,464.5 M957.74,460 L957.74,464.5 M959.20,460 L959.20,464.5 M960.50,460 L960.50,469.5" stroke="#000" stroke-width="2.1" fill="none"/>
<path d="M704.3,448.33 L694.3,448.33 M704.3,401.67 L694.3,401.67 M704.3,355.00 L694.3,355.00 M704.3,308.33 L694.3,308.33 M704.3,261.67 L694.3,261.67 M704.3,215.00 L694.3,215.00 M704.3,168.33 L694.3,168.33 M704.3,121.67 L694.3,121.67 M704.3,75.00 L694.3,75.00 M704.3,425.00 L699.3,425.00 M704.3,378.33 L699.3,378.33 M704.3,331.67 L699.3,331.67 M704.3,285.00 L699.3,285.00 M704.3,238.33 L699.3,238.33 M704.3,191.67 L699.3,191.67 M704.3,145.00 L699.3,145.00 M704.3,98.33 L699.3,98.33 M704.3,51.67 L699.3,51.67" stroke="#000" stroke-width="2.1" fill="none"/>
<text stroke="#000" stroke-width="0.2" x="704.80" y="503.7" font-size="29" text-anchor="middle">10<tspan font-size="20" dy="-12">-4</tspan></text>
<text stroke="#000" stroke-width="0.2" x="761.73" y="503.7" font-size="29" text-anchor="middle">10<tspan font-size="20" dy="-12">-2</tspan></text>
<text stroke="#000" stroke-width="0.2" x="818.67" y="503.7" font-size="29" text-anchor="middle">10<tspan font-size="20" dy="-12">0</tspan></text>
<text stroke="#000" stroke-width="0.2" x="875.60" y="503.7" font-size="29" text-anchor="middle">10<tspan font-size="20" dy="-12">2</tspan></text>
<text stroke="#000" stroke-width="0.2" x="932.53" y="503.7" font-size="29" text-anchor="middle">10<tspan font-size="20" dy="-12">4</tspan></text>
<text stroke="#000" stroke-width="0.2" x="797" y="539" font-size="32">r<tspan font-size="21" dy="7.5">b</tspan><tspan dy="-7.5">/r</tspan><tspan font-size="21" dy="7.5">s</tspan></text>
<text stroke="#000" stroke-width="0.2" x="887.5" y="67.9" font-size="27"><tspan font-family="Liberation Serif">λ</tspan><tspan font-size="18.5" dy="6.8">s</tspan><tspan dy="-6.8">= L</tspan></text>
<text stroke="#F80080" stroke-width="0.2" x="737" y="119.1" font-size="27" fill="#F80080"><tspan font-family="Liberation Serif" font-style="italic">γ</tspan><tspan dx="0.5">=</tspan>0.999</text>
<text stroke="#008000" stroke-width="0.2" x="738.5" y="196.2" font-size="27" fill="#008000"><tspan font-family="Liberation Serif" font-style="italic">γ</tspan><tspan dx="0.5">=</tspan>0.99</text>
<text stroke="#0000FF" stroke-width="0.2" x="733.5" y="343.5" font-size="27" fill="#0000FF"><tspan font-family="Liberation Serif" font-style="italic">γ</tspan><tspan dx="0.5">=</tspan>0.9</text>
<text stroke="#FF0000" stroke-width="0.2" x="705" y="422.2" font-size="27" fill="#FF0000"><tspan font-family="Liberation Serif" font-style="italic">γ</tspan><tspan dx="0.5">=</tspan>0.78</text>
<line x1="1049" y1="424.80" x2="1349" y2="424.80" stroke="#999" stroke-width="1.2" stroke-dasharray="3 2.5"/>
<path d="M1049.00,424.80 L1049.50,424.80 L1050.00,424.80 L1050.50,424.80 L1051.00,424.80 L1051.50,424.80 L1052.01,424.80 L1052.51,424.80 L1053.01,424.80 L1053.51,424.80 L1054.01,424.80 L1054.51,424.80 L1055.01,424.80 L1055.51,424.80 L1056.01,424.80 L1056.51,424.80 L1057.01,424.80 L1057.51,424.80 L1058.02,424.80 L1058.52,424.80 L1059.02,424.80 L1059.52,424.80 L1060.02,424.80 L1060.52,424.80 L1061.02,424.80 L1061.52,424.80 L1062.02,424.80 L1062.52,424.80 L1063.02,424.80 L1063.52,424.80 L1064.03,424.80 L1064.53,424.80 L1065.03,424.80 L1065.53,424.80 L1066.03,424.80 L1066.53,424.80 L1067.03,424.80 L1067.53,424.80 L1068.03,424.80 L1068.53,424.80 L1069.03,424.80 L1069.53,424.80 L1070.04,424.80 L1070.54,424.80 L1071.04,424.80 L1071.54,424.80 L1072.04,424.80 L1072.54,424.80 L1073.04,424.80 L1073.54,424.80 L1074.04,424.80 L1074.54,424.80 L1075.04,424.80 L1075.54,424.80 L1076.05,424.80 L1076.55,424.80 L1077.05,424.80 L1077.55,424.80 L1078.05,424.80 L1078.55,424.80 L1079.05,424.80 L1079.55,424.80 L1080.05,424.80 L1080.55,424.80 L1081.05,424.80 L1081.55,424.80 L1082.06,424.80 L1082.56,424.80 L1083.06,424.80 L1083.56,424.80 L1084.06,424.80 L1084.56,424.79 L1085.06,424.79 L1085.56,424.79 L1086.06,424.79 L1086.56,424.79 L1087.06,424.79 L1087.56,424.79 L1088.07,424.79 L1088.57,424.79 L1089.07,424.79 L1089.57,424.79 L1090.07,424.79 L1090.57,424.79 L1091.07,424.79 L1091.57,424.79 L1092.07,424.79 L1092.57,424.78 L1093.07,424.78 L1093.57,424.78 L1094.08,424.78 L1094.58,424.78 L1095.08,424.78 L1095.58,424.78 L1096.08,424.78 L1096.58,424.77 L1097.08,424.77 L1097.58,424.77 L1098.08,424.77 L1098.58,424.77 L1099.08,424.76 L1099.58,424.76 L1100.09,424.76 L1100.59,424.75 L1101.09,424.75 L1101.59,424.75 L1102.09,424.74 L1102.59,424.74 L1103.09,424.74 L1103.59,424.73 L1104.09,424.73 L1104.59,424.72 L1105.09,424.72 L1105.59,424.71 L1106.10,424.70 L1106.60,424.70 L1107.10,424.69 L1107.60,424.68 L1108.10,424.67 L1108.60,424.66 L1109.10,424.65 L1109.60,424.64 L1110.10,424.63 L1110.60,424.62 L1111.10,424.61 L1111.60,424.59 L1112.11,424.58 L1112.61,424.57 L1113.11,424.55 L1113.61,424.53 L1114.11,424.51 L1114.61,424.49 L1115.11,424.47 L1115.61,424.45 L1116.11,424.42 L1116.61,424.40 L1117.11,424.37 L1117.61,424.34 L1118.12,424.31 L1118.62,424.28 L1119.12,424.24 L1119.62,424.20 L1120.12,424.16 L1120.62,424.12 L1121.12,424.07 L1121.62,424.02 L1122.12,423.97 L1122.62,423.91 L1123.12,423.85 L1123.62,423.78 L1124.13,423.71 L1124.63,423.64 L1125.13,423.56 L1125.63,423.48 L1126.13,423.39 L1126.63,423.30 L1127.13,423.20 L1127.63,423.09 L1128.13,422.98 L1128.63,422.86 L1129.13,422.73 L1129.63,422.59 L1130.14,422.44 L1130.64,422.29 L1131.14,422.12 L1131.64,421.95 L1132.14,421.76 L1132.64,421.57 L1133.14,421.36 L1133.64,421.14 L1134.14,420.90 L1134.64,420.65 L1135.14,420.38 L1135.64,420.10 L1136.15,419.81 L1136.65,419.49 L1137.15,419.16 L1137.65,418.80 L1138.15,418.43 L1138.65,418.03 L1139.15,417.62 L1139.65,417.17 L1140.15,416.71 L1140.65,416.21 L1141.15,415.69 L1141.65,415.14 L1142.16,414.56 L1142.66,413.95 L1143.16,413.30 L1143.66,412.62 L1144.16,411.91 L1144.66,411.16 L1145.16,410.36 L1145.66,409.53 L1146.16,408.65 L1146.66,407.73 L1147.16,406.77 L1147.66,405.75 L1148.17,404.69 L1148.67,403.58 L1149.17,402.41 L1149.67,401.18 L1150.17,399.90 L1150.67,398.56 L1151.17,397.16 L1151.67,395.70 L1152.17,394.17 L1152.67,392.57 L1153.17,390.91 L1153.67,389.17 L1154.18,387.37 L1154.68,385.48 L1155.18,383.53 L1155.68,381.49 L1156.18,379.38 L1156.68,377.18 L1157.18,374.90 L1157.68,372.54 L1158.18,370.09 L1158.68,367.55 L1159.18,364.93 L1159.68,362.21 L1160.19,359.41 L1160.69,356.51 L1161.19,353.53 L1161.69,350.45 L1162.19,347.27 L1162.69,344.01 L1163.19,340.65 L1163.69,337.19 L1164.19,333.65 L1164.69,330.01 L1165.19,326.28 L1165.69,322.46 L1166.20,318.54 L1166.70,314.55 L1167.20,310.46 L1167.70,306.29 L1168.20,302.03 L1168.70,297.70 L1169.20,293.29 L1169.70,288.81 L1170.20,284.25 L1170.70,279.63 L1171.20,274.94 L1171.70,270.19 L1172.21,265.39 L1172.71,260.53 L1173.21,255.64 L1173.71,250.70 L1174.21,245.72 L1174.71,240.72 L1175.21,235.69 L1175.71,230.65 L1176.21,225.60 L1176.71,220.54 L1177.21,215.49 L1177.71,210.45 L1178.22,205.43 L1178.72,200.43 L1179.22,195.47 L1179.72,190.55 L1180.22,185.68 L1180.72,180.87 L1181.22,176.12 L1181.72,171.44 L1182.22,166.85 L1182.72,162.35 L1183.22,157.95 L1183.72,153.65 L1184.23,149.47 L1184.73,145.41 L1185.23,141.48 L1185.73,137.68 L1186.23,134.04 L1186.73,130.54 L1187.23,127.20 L1187.73,124.02 L1188.23,121.02 L1188.73,118.19 L1189.23,115.55 L1189.73,113.09 L1190.24,110.83 L1190.74,108.76 L1191.24,106.89 L1191.74,105.22 L1192.24,103.76 L1192.74,102.51 L1193.24,101.46 L1193.74,100.63 L1194.24,100.01 L1194.74,99.61 L1195.24,99.41 L1195.74,99.43 L1196.25,99.65 L1196.75,100.09 L1197.25,100.73 L1197.75,101.58 L1198.25,102.62 L1198.75,103.87 L1199.25,105.31 L1199.75,106.93 L1200.25,108.75 L1200.75,110.74 L1201.25,112.90 L1201.75,115.24 L1202.26,117.74 L1202.76,120.39 L1203.26,123.19 L1203.76,126.14 L1204.26,129.23 L1204.76,132.44 L1205.26,135.78 L1205.76,139.23 L1206.26,142.79 L1206.76,146.46 L1207.26,150.21 L1207.76,154.06 L1208.27,157.98 L1208.77,161.98 L1209.27,166.04 L1209.77,170.16 L1210.27,174.33 L1210.77,178.55 L1211.27,182.81 L1211.77,187.10 L1212.27,191.41 L1212.77,195.74 L1213.27,200.09 L1213.77,204.45 L1214.28,208.81 L1214.78,213.16 L1215.28,217.51 L1215.78,221.85 L1216.28,226.17 L1216.78,230.46 L1217.28,234.74 L1217.78,238.98 L1218.28,243.19 L1218.78,247.36 L1219.28,251.49 L1219.78,255.58 L1220.29,259.63 L1220.79,263.62 L1221.29,267.57 L1221.79,271.46 L1222.29,275.30 L1222.79,279.09 L1223.29,282.81 L1223.79,286.48 L1224.29,290.08 L1224.79,293.62 L1225.29,297.10 L1225.79,300.52 L1226.30,303.87 L1226.80,307.16 L1227.30,310.39 L1227.80,313.54 L1228.30,316.64 L1228.80,319.66 L1229.30,322.63 L1229.80,325.53 L1230.30,328.36 L1230.80,331.13 L1231.30,333.83 L1231.80,336.47 L1232.31,339.05 L1232.81,341.57 L1233.31,344.02 L1233.81,346.42 L1234.31,348.75 L1234.81,351.03 L1235.31,353.24 L1235.81,355.40 L1236.31,357.50 L1236.81,359.55 L1237.31,361.54 L1237.81,363.48 L1238.32,365.37 L1238.82,367.20 L1239.32,368.98 L1239.82,370.72 L1240.32,372.40 L1240.82,374.04 L1241.32,375.63 L1241.82,377.17 L1242.32,378.67 L1242.82,380.13 L1243.32,381.55 L1243.82,382.92 L1244.33,384.25 L1244.83,385.54 L1245.33,386.80 L1245.83,388.02 L1246.33,389.20 L1246.83,390.34 L1247.33,391.45 L1247.83,392.53 L1248.33,393.57 L1248.83,394.58 L1249.33,395.56 L1249.83,396.51 L1250.34,397.43 L1250.84,398.33 L1251.34,399.19 L1251.84,400.03 L1252.34,400.84 L1252.84,401.62 L1253.34,402.38 L1253.84,403.12 L1254.34,403.83 L1254.84,404.52 L1255.34,405.19 L1255.84,405.84 L1256.35,406.47 L1256.85,407.07 L1257.35,407.66 L1257.85,408.23 L1258.35,408.78 L1258.85,409.31 L1259.35,409.82 L1259.85,410.32 L1260.35,410.80 L1260.85,411.27 L1261.35,411.72 L1261.85,412.15 L1262.36,412.58 L1262.86,412.98 L1263.36,413.38 L1263.86,413.76 L1264.36,414.13 L1264.86,414.49 L1265.36,414.83 L1265.86,415.17 L1266.36,415.49 L1266.86,415.80 L1267.36,416.10 L1267.86,416.40 L1268.37,416.68 L1268.87,416.95 L1269.37,417.21 L1269.87,417.47 L1270.37,417.72 L1270.87,417.95 L1271.37,418.18 L1271.87,418.41 L1272.37,418.62 L1272.87,418.83 L1273.37,419.03 L1273.87,419.23 L1274.38,419.41 L1274.88,419.60 L1275.38,419.77 L1275.88,419.94 L1276.38,420.11 L1276.88,420.26 L1277.38,420.42 L1277.88,420.57 L1278.38,420.71 L1278.88,420.85 L1279.38,420.98 L1279.88,421.11 L1280.39,421.23 L1280.89,421.35 L1281.39,421.47 L1281.89,421.58 L1282.39,421.69 L1282.89,421.80 L1283.39,421.90 L1283.89,422.00 L1284.39,422.09 L1284.89,422.18 L1285.39,422.27 L1285.89,422.36 L1286.40,422.44 L1286.90,422.52 L1287.40,422.60 L1287.90,422.67 L1288.40,422.75 L1288.90,422.81 L1289.40,422.88 L1289.90,422.95 L1290.40,423.01 L1290.90,423.07 L1291.40,423.13 L1291.90,423.19 L1292.41,423.24 L1292.91,423.29 L1293.41,423.34 L1293.91,423.39 L1294.41,423.44 L1294.91,423.49 L1295.41,423.53 L1295.91,423.58 L1296.41,423.62 L1296.91,423.66 L1297.41,423.70 L1297.91,423.73 L1298.42,423.77 L1298.92,423.80 L1299.42,423.84 L1299.92,423.87 L1300.42,423.90 L1300.92,423.93 L1301.42,423.96 L1301.92,423.99 L1302.42,424.02 L1302.92,424.05 L1303.42,424.07 L1303.92,424.10 L1304.43,424.12 L1304.93,424.14 L1305.43,424.16 L1305.93,424.19 L1306.43,424.21 L1306.93,424.23 L1307.43,424.25 L1307.93,424.27 L1308.43,424.28 L1308.93,424.30 L1309.43,424.32 L1309.93,424.33 L1310.44,424.35 L1310.94,424.37 L1311.44,424.38 L1311.94,424.39 L1312.44,424.41 L1312.94,424.42 L1313.44,424.43 L1313.94,424.45 L1314.44,424.46 L1314.94,424.47 L1315.44,424.48 L1315.94,424.49 L1316.45,424.50 L1316.95,424.51 L1317.45,424.52 L1317.95,424.53 L1318.45,424.54 L1318.95,424.55 L1319.45,424.56 L1319.95,424.57 L1320.45,424.57 L1320.95,424.58 L1321.45,424.59 L1321.95,424.60 L1322.46,424.60 L1322.96,424.61 L1323.46,424.62 L1323.96,424.62 L1324.46,424.63 L1324.96,424.64 L1325.46,424.64 L1325.96,424.65 L1326.46,424.65 L1326.96,424.66 L1327.46,424.66 L1327.96,424.67 L1328.47,424.67 L1328.97,424.67 L1329.47,424.68 L1329.97,424.68 L1330.47,424.69 L1330.97,424.69 L1331.47,424.69 L1331.97,424.70 L1332.47,424.70 L1332.97,424.71 L1333.47,424.71 L1333.97,424.71 L1334.48,424.71 L1334.98,424.72 L1335.48,424.72 L1335.98,424.72 L1336.48,424.73 L1336.98,424.73 L1337.48,424.73 L1337.98,424.73 L1338.48,424.74 L1338.98,424.74 L1339.48,424.74 L1339.98,424.74 L1340.49,424.74 L1340.99,424.75 L1341.49,424.75 L1341.99,424.75 L1342.49,424.75 L1342.99,424.75 L1343.49,424.75 L1343.99,424.76 L1344.49,424.76 L1344.99,424.76 L1345.49,424.76 L1345.99,424.76 L1346.50,424.76 L1347.00,424.76 L1347.50,424.77 L1348.00,424.77 L1348.50,424.77 L1349.00,424.77" fill="none" stroke="#FF0000" stroke-width="4.2" stroke-linejoin="round" clip-path="url(#cc)"/>
<path d="M1049.00,424.80 L1049.50,424.80 L1050.00,424.80 L1050.50,424.80 L1051.00,424.80 L1051.50,424.80 L1052.01,424.80 L1052.51,424.80 L1053.01,424.80 L1053.51,424.80 L1054.01,424.80 L1054.51,424.80 L1055.01,424.80 L1055.51,424.80 L1056.01,424.80 L1056.51,424.80 L1057.01,424.80 L1057.51,424.80 L1058.02,424.80 L1058.52,424.80 L1059.02,424.80 L1059.52,424.80 L1060.02,424.80 L1060.52,424.80 L1061.02,424.80 L1061.52,424.80 L1062.02,424.80 L1062.52,424.80 L1063.02,424.80 L1063.52,424.80 L1064.03,424.80 L1064.53,424.80 L1065.03,424.80 L1065.53,424.80 L1066.03,424.80 L1066.53,424.80 L1067.03,424.80 L1067.53,424.80 L1068.03,424.80 L1068.53,424.80 L1069.03,424.80 L1069.53,424.80 L1070.04,424.80 L1070.54,424.80 L1071.04,424.80 L1071.54,424.80 L1072.04,424.80 L1072.54,424.80 L1073.04,424.80 L1073.54,424.80 L1074.04,424.80 L1074.54,424.80 L1075.04,424.80 L1075.54,424.80 L1076.05,424.80 L1076.55,424.80 L1077.05,424.80 L1077.55,424.80 L1078.05,424.80 L1078.55,424.80 L1079.05,424.80 L1079.55,424.80 L1080.05,424.80 L1080.55,424.80 L1081.05,424.80 L1081.55,424.80 L1082.06,424.80 L1082.56,424.80 L1083.06,424.80 L1083.56,424.80 L1084.06,424.80 L1084.56,424.80 L1085.06,424.79 L1085.56,424.79 L1086.06,424.79 L1086.56,424.79 L1087.06,424.79 L1087.56,424.79 L1088.07,424.79 L1088.57,424.79 L1089.07,424.79 L1089.57,424.79 L1090.07,424.79 L1090.57,424.79 L1091.07,424.79 L1091.57,424.79 L1092.07,424.79 L1092.57,424.79 L1093.07,424.78 L1093.57,424.78 L1094.08,424.78 L1094.58,424.78 L1095.08,424.78 L1095.58,424.78 L1096.08,424.78 L1096.58,424.77 L1097.08,424.77 L1097.58,424.77 L1098.08,424.77 L1098.58,424.77 L1099.08,424.76 L1099.58,424.76 L1100.09,424.76 L1100.59,424.76 L1101.09,424.75 L1101.59,424.75 L1102.09,424.75 L1102.59,424.74 L1103.09,424.74 L1103.59,424.73 L1104.09,424.73 L1104.59,424.72 L1105.09,424.72 L1105.59,424.71 L1106.10,424.71 L1106.60,424.70 L1107.10,424.69 L1107.60,424.69 L1108.10,424.68 L1108.60,424.67 L1109.10,424.66 L1109.60,424.65 L1110.10,424.64 L1110.60,424.63 L1111.10,424.62 L1111.60,424.60 L1112.11,424.59 L1112.61,424.58 L1113.11,424.56 L1113.61,424.55 L1114.11,424.53 L1114.61,424.51 L1115.11,424.49 L1115.61,424.47 L1116.11,424.44 L1116.61,424.42 L1117.11,424.39 L1117.61,424.37 L1118.12,424.34 L1118.62,424.31 L1119.12,424.27 L1119.62,424.24 L1120.12,424.20 L1120.62,424.16 L1121.12,424.11 L1121.62,424.07 L1122.12,424.02 L1122.62,423.97 L1123.12,423.91 L1123.62,423.85 L1124.13,423.79 L1124.63,423.72 L1125.13,423.65 L1125.63,423.57 L1126.13,423.49 L1126.63,423.41 L1127.13,423.32 L1127.63,423.22 L1128.13,423.12 L1128.63,423.01 L1129.13,422.89 L1129.63,422.77 L1130.14,422.64 L1130.64,422.50 L1131.14,422.35 L1131.64,422.20 L1132.14,422.03 L1132.64,421.86 L1133.14,421.67 L1133.64,421.48 L1134.14,421.27 L1134.64,421.05 L1135.14,420.82 L1135.64,420.58 L1136.15,420.32 L1136.65,420.05 L1137.15,419.76 L1137.65,419.46 L1138.15,419.14 L1138.65,418.81 L1139.15,418.45 L1139.65,418.08 L1140.15,417.69 L1140.65,417.28 L1141.15,416.84 L1141.65,416.39 L1142.16,415.91 L1142.66,415.41 L1143.16,414.88 L1143.66,414.33 L1144.16,413.76 L1144.66,413.15 L1145.16,412.52 L1145.66,411.86 L1146.16,411.17 L1146.66,410.45 L1147.16,409.70 L1147.66,408.92 L1148.17,408.10 L1148.67,407.25 L1149.17,406.37 L1149.67,405.45 L1150.17,404.49 L1150.67,403.50 L1151.17,402.47 L1151.67,401.41 L1152.17,400.31 L1152.67,399.16 L1153.17,397.98 L1153.67,396.77 L1154.18,395.51 L1154.68,394.21 L1155.18,392.87 L1155.68,391.50 L1156.18,390.08 L1156.68,388.63 L1157.18,387.14 L1157.68,385.61 L1158.18,384.05 L1158.68,382.44 L1159.18,380.81 L1159.68,379.13 L1160.19,377.43 L1160.69,375.69 L1161.19,373.92 L1161.69,372.13 L1162.19,370.30 L1162.69,368.45 L1163.19,366.58 L1163.69,364.69 L1164.19,362.77 L1164.69,360.84 L1165.19,358.90 L1165.69,356.94 L1166.20,354.97 L1166.70,353.00 L1167.20,351.02 L1167.70,349.05 L1168.20,347.07 L1168.70,345.11 L1169.20,343.15 L1169.70,341.20 L1170.20,339.28 L1170.70,337.37 L1171.20,335.48 L1171.70,333.62 L1172.21,331.79 L1172.71,330.00 L1173.21,328.24 L1173.71,326.52 L1174.21,324.85 L1174.71,323.23 L1175.21,321.65 L1175.71,320.13 L1176.21,318.67 L1176.71,317.26 L1177.21,315.93 L1177.71,314.65 L1178.22,313.45 L1178.72,312.31 L1179.22,311.25 L1179.72,310.26 L1180.22,309.35 L1180.72,308.52 L1181.22,307.77 L1181.72,307.10 L1182.22,306.52 L1182.72,306.02 L1183.22,305.60 L1183.72,305.27 L1184.23,305.02 L1184.73,304.85 L1185.23,304.77 L1185.73,304.78 L1186.23,304.87 L1186.73,305.04 L1187.23,305.29 L1187.73,305.62 L1188.23,306.03 L1188.73,306.52 L1189.23,307.09 L1189.73,307.73 L1190.24,308.44 L1190.74,309.22 L1191.24,310.06 L1191.74,310.97 L1192.24,311.95 L1192.74,312.98 L1193.24,314.07 L1193.74,315.21 L1194.24,316.41 L1194.74,317.65 L1195.24,318.94 L1195.74,320.27 L1196.25,321.64 L1196.75,323.04 L1197.25,324.48 L1197.75,325.95 L1198.25,327.45 L1198.75,328.98 L1199.25,330.53 L1199.75,332.09 L1200.25,333.68 L1200.75,335.27 L1201.25,336.88 L1201.75,338.50 L1202.26,340.13 L1202.76,341.76 L1203.26,343.39 L1203.76,345.03 L1204.26,346.66 L1204.76,348.29 L1205.26,349.91 L1205.76,351.53 L1206.26,353.14 L1206.76,354.74 L1207.26,356.32 L1207.76,357.89 L1208.27,359.45 L1208.77,360.99 L1209.27,362.52 L1209.77,364.03 L1210.27,365.52 L1210.77,366.99 L1211.27,368.43 L1211.77,369.86 L1212.27,371.27 L1212.77,372.65 L1213.27,374.01 L1213.77,375.35 L1214.28,376.67 L1214.78,377.96 L1215.28,379.22 L1215.78,380.46 L1216.28,381.68 L1216.78,382.87 L1217.28,384.04 L1217.78,385.18 L1218.28,386.30 L1218.78,387.40 L1219.28,388.47 L1219.78,389.51 L1220.29,390.53 L1220.79,391.53 L1221.29,392.50 L1221.79,393.45 L1222.29,394.38 L1222.79,395.28 L1223.29,396.16 L1223.79,397.02 L1224.29,397.86 L1224.79,398.67 L1225.29,399.46 L1225.79,400.24 L1226.30,400.99 L1226.80,401.72 L1227.30,402.43 L1227.80,403.12 L1228.30,403.79 L1228.80,404.44 L1229.30,405.08 L1229.80,405.70 L1230.30,406.30 L1230.80,406.88 L1231.30,407.44 L1231.80,407.99 L1232.31,408.53 L1232.81,409.04 L1233.31,409.54 L1233.81,410.03 L1234.31,410.50 L1234.81,410.96 L1235.31,411.41 L1235.81,411.84 L1236.31,412.26 L1236.81,412.66 L1237.31,413.05 L1237.81,413.44 L1238.32,413.80 L1238.82,414.16 L1239.32,414.51 L1239.82,414.84 L1240.32,415.17 L1240.82,415.48 L1241.32,415.79 L1241.82,416.08 L1242.32,416.37 L1242.82,416.65 L1243.32,416.92 L1243.82,417.18 L1244.33,417.43 L1244.83,417.67 L1245.33,417.91 L1245.83,418.13 L1246.33,418.36 L1246.83,418.57 L1247.33,418.78 L1247.83,418.98 L1248.33,419.17 L1248.83,419.36 L1249.33,419.54 L1249.83,419.71 L1250.34,419.88 L1250.84,420.05 L1251.34,420.21 L1251.84,420.36 L1252.34,420.51 L1252.84,420.65 L1253.34,420.79 L1253.84,420.92 L1254.34,421.05 L1254.84,421.18 L1255.34,421.30 L1255.84,421.42 L1256.35,421.53 L1256.85,421.64 L1257.35,421.75 L1257.85,421.85 L1258.35,421.95 L1258.85,422.04 L1259.35,422.14 L1259.85,422.23 L1260.35,422.31 L1260.85,422.40 L1261.35,422.48 L1261.85,422.56 L1262.36,422.63 L1262.86,422.71 L1263.36,422.78 L1263.86,422.84 L1264.36,422.91 L1264.86,422.97 L1265.36,423.04 L1265.86,423.10 L1266.36,423.15 L1266.86,423.21 L1267.36,423.26 L1267.86,423.31 L1268.37,423.36 L1268.87,423.41 L1269.37,423.46 L1269.87,423.51 L1270.37,423.55 L1270.87,423.59 L1271.37,423.63 L1271.87,423.67 L1272.37,423.71 L1272.87,423.75 L1273.37,423.78 L1273.87,423.82 L1274.38,423.85 L1274.88,423.88 L1275.38,423.91 L1275.88,423.94 L1276.38,423.97 L1276.88,424.00 L1277.38,424.03 L1277.88,424.05 L1278.38,424.08 L1278.88,424.10 L1279.38,424.13 L1279.88,424.15 L1280.39,424.17 L1280.89,424.19 L1281.39,424.21 L1281.89,424.23 L1282.39,424.25 L1282.89,424.27 L1283.39,424.29 L1283.89,424.31 L1284.39,424.32 L1284.89,424.34 L1285.39,424.36 L1285.89,424.37 L1286.40,424.39 L1286.90,424.40 L1287.40,424.41 L1287.90,424.43 L1288.40,424.44 L1288.90,424.45 L1289.40,424.46 L1289.90,424.47 L1290.40,424.49 L1290.90,424.50 L1291.40,424.51 L1291.90,424.52 L1292.41,424.53 L1292.91,424.54 L1293.41,424.54 L1293.91,424.55 L1294.41,424.56 L1294.91,424.57 L1295.41,424.58 L1295.91,424.58 L1296.41,424.59 L1296.91,424.60 L1297.41,424.61 L1297.91,424.61 L1298.42,424.62 L1298.92,424.63 L1299.42,424.63 L1299.92,424.64 L1300.42,424.64 L1300.92,424.65 L1301.42,424.65 L1301.92,424.66 L1302.42,424.66 L1302.92,424.67 L1303.42,424.67 L1303.92,424.68 L1304.43,424.68 L1304.93,424.68 L1305.43,424.69 L1305.93,424.69 L1306.43,424.70 L1306.93,424.70 L1307.43,424.70 L1307.93,424.71 L1308.43,424.71 L1308.93,424.71 L1309.43,424.72 L1309.93,424.72 L1310.44,424.72 L1310.94,424.72 L1311.44,424.73 L1311.94,424.73 L1312.44,424.73 L1312.94,424.73 L1313.44,424.74 L1313.94,424.74 L1314.44,424.74 L1314.94,424.74 L1315.44,424.74 L1315.94,424.75 L1316.45,424.75 L1316.95,424.75 L1317.45,424.75 L1317.95,424.75 L1318.45,424.75 L1318.95,424.76 L1319.45,424.76 L1319.95,424.76 L1320.45,424.76 L1320.95,424.76 L1321.45,424.76 L1321.95,424.76 L1322.46,424.77 L1322.96,424.77 L1323.46,424.77 L1323.96,424.77 L1324.46,424.77 L1324.96,424.77 L1325.46,424.77 L1325.96,424.77 L1326.46,424.77 L1326.96,424.77 L1327.46,424.78 L1327.96,424.78 L1328.47,424.78 L1328.97,424.78 L1329.47,424.78 L1329.97,424.78 L1330.47,424.78 L1330.97,424.78 L1331.47,424.78 L1331.97,424.78 L1332.47,424.78 L1332.97,424.78 L1333.47,424.78 L1333.97,424.78 L1334.48,424.78 L1334.98,424.79 L1335.48,424.79 L1335.98,424.79 L1336.48,424.79 L1336.98,424.79 L1337.48,424.79 L1337.98,424.79 L1338.48,424.79 L1338.98,424.79 L1339.48,424.79 L1339.98,424.79 L1340.49,424.79 L1340.99,424.79 L1341.49,424.79 L1341.99,424.79 L1342.49,424.79 L1342.99,424.79 L1343.49,424.79 L1343.99,424.79 L1344.49,424.79 L1344.99,424.79 L1345.49,424.79 L1345.99,424.79 L1346.50,424.79 L1347.00,424.79 L1347.50,424.79 L1348.00,424.79 L1348.50,424.79 L1349.00,424.79" fill="none" stroke="#000" stroke-width="2.6" stroke-linejoin="round" clip-path="url(#cc)"/>
<line x1="1262.26" y1="277" x2="1262.26" y2="459.8" stroke="#008000" stroke-width="2.6" stroke-dasharray="6 4"/>
<rect x="1049" y="39.8" width="300" height="420.0" fill="none" stroke="#000" stroke-width="1.8"/>
<path d="M1049.00,459.8 L1049.00,469.3 M1059.03,459.8 L1059.03,464.3 M1064.90,459.8 L1064.90,464.3 M1069.07,459.8 L1069.07,464.3 M1072.30,459.8 L1072.30,464.3 M1074.94,459.8 L1074.94,464.3 M1077.17,459.8 L1077.17,464.3 M1079.10,459.8 L1079.10,464.3 M1080.81,459.8 L1080.81,464.3 M1082.33,459.8 L1082.33,469.3 M1092.37,459.8 L1092.37,464.3 M1098.24,459.8 L1098.24,464.3 M1102.40,459.8 L1102.40,464.3 M1105.63,459.8 L1105.63,464.3 M1108.27,459.8 L1108.27,464.3 M1110.50,459.8 L1110.50,464.3 M1112.44,459.8 L1112.44,464.3 M1114.14,459.8 L1114.14,464.3 M1115.67,459.8 L1115.67,469.3 M1125.70,459.8 L1125.70,464.3 M1131.57,459.8 L1131.57,464.3 M1135.74,459.8 L1135.74,464.3 M1138.97,459.8 L1138.97,464.3 M1141.61,459.8 L1141.61,464.3 M1143.84,459.8 L1143.84,464.3 M1145.77,459.8 L1145.77,464.3 M1147.47,459.8 L1147.47,464.3 M1149.00,459.8 L1149.00,469.3 M1159.03,459.8 L1159.03,464.3 M1164.90,459.8 L1164.90,464.3 M1169.07,459.8 L1169.07,464.3 M1172.30,459.8 L1172.30,464.3 M1174.94,459.8 L1174.94,464.3 M1177.17,459.8 L1177.17,464.3 M1179.10,459.8 L1179.10,464.3 M1180.81,459.8 L1180.81,464.3 M1182.33,459.8 L1182.33,469.3 M1192.37,459.8 L1192.37,464.3 M1198.24,459.8 L1198.24,464.3 M1202.40,459.8 L1202.40,464.3 M1205.63,459.8 L1205.63,464.3 M1208.27,459.8 L1208.27,464.3 M1210.50,459.8 L1210.50,464.3 M1212.44,459.8 L1212.44,464.3 M1214.14,459.8 L1214.14,464.3 M1215.67,459.8 L1215.67,469.3 M1225.70,459.8 L1225.70,464.3 M1231.57,459.8 L1231.57,464.3 M1235.74,459.8 L1235.74,464.3 M1238.97,459.8 L1238.97,464.3 M1241.61,459.8 L1241.61,464.3 M1243.84,459.8 L1243.84,464.3 M1245.77,459.8 L1245.77,464.3 M1247.47,459.8 L1247.47,464.3 M1249.00,459.8 L1249.00,469.3 M1259.03,459.8 L1259.03,464.3 M1264.90,459.8 L1264.90,464.3 M1269.07,459.8 L1269.07,464.3 M1272.30,459.8 L1272.30,464.3 M1274.94,459.8 L1274.94,464.3 M1277.17,459.8 L1277.17,464.3 M1279.10,459.8 L1279.10,464.3 M1280.81,459.8 L1280.81,464.3 M1282.33,459.8 L1282.33,469.3 M1292.37,459.8 L1292.37,464.3 M1298.24,459.8 L1298.24,464.3 M1302.40,459.8 L1302.40,464.3 M1305.63,459.8 L1305.63,464.3 M1308.27,459.8 L1308.27,464.3 M1310.50,459.8 L1310.50,464.3 M1312.44,459.8 L1312.44,464.3 M1314.14,459.8 L1314.14,464.3 M1315.67,459.8 L1315.67,469.3 M1325.70,459.8 L1325.70,464.3 M1331.57,459.8 L1331.57,464.3 M1335.74,459.8 L1335.74,464.3 M1338.97,459.8 L1338.97,464.3 M1341.61,459.8 L1341.61,464.3 M1343.84,459.8 L1343.84,464.3 M1345.77,459.8 L1345.77,464.3 M1347.47,459.8 L1347.47,464.3 M1349.00,459.8 L1349.00,469.3" stroke="#000" stroke-width="1.8" fill="none"/>
<path d="M1049,424.80 L1039,424.80 M1049,354.80 L1039,354.80 M1049,284.80 L1039,284.80 M1049,214.80 L1039,214.80 M1049,144.80 L1039,144.80 M1049,74.80 L1039,74.80 M1049,459.80 L1044,459.80 M1049,389.80 L1044,389.80 M1049,319.80 L1044,319.80 M1049,249.80 L1044,249.80 M1049,179.80 L1044,179.80 M1049,109.80 L1044,109.80 M1049,39.80 L1044,39.80" stroke="#000" stroke-width="1.8" fill="none"/>
<text stroke="#000" stroke-width="0.2" x="1032" y="433.80" font-size="29" text-anchor="end">0</text>
<text stroke="#000" stroke-width="0.2" x="1032" y="363.80" font-size="29" text-anchor="end">10</text>
<text stroke="#000" stroke-width="0.2" x="1032" y="293.80" font-size="29" text-anchor="end">20</text>
<text stroke="#000" stroke-width="0.2" x="1032" y="223.80" font-size="29" text-anchor="end">30</text>
<text stroke="#000" stroke-width="0.2" x="1032" y="153.80" font-size="29" text-anchor="end">40</text>
<text stroke="#000" stroke-width="0.2" x="1032" y="83.80" font-size="29" text-anchor="end">50</text>
<text stroke="#000" stroke-width="0.2" x="1049.50" y="504" font-size="29" text-anchor="middle">10<tspan font-size="20" dy="-12">-4</tspan></text>
<text stroke="#000" stroke-width="0.2" x="1116.17" y="504" font-size="29" text-anchor="middle">10<tspan font-size="20" dy="-12">-2</tspan></text>
<text stroke="#000" stroke-width="0.2" x="1182.83" y="504" font-size="29" text-anchor="middle">10<tspan font-size="20" dy="-12">0</tspan></text>
<text stroke="#000" stroke-width="0.2" x="1249.50" y="504" font-size="29" text-anchor="middle">10<tspan font-size="20" dy="-12">2</tspan></text>
<text stroke="#000" stroke-width="0.2" x="1316.17" y="504" font-size="29" text-anchor="middle">10<tspan font-size="20" dy="-12">4</tspan></text>
<text stroke="#000" stroke-width="0.2" x="1169.5" y="543" font-size="32">r<tspan font-size="21" dy="7.5">b</tspan><tspan dy="-7.5">/r</tspan><tspan font-size="21" dy="7.5">s</tspan></text>
<text stroke="#000" stroke-width="0.2" transform="translate(990,293.5) rotate(-90)" font-size="29">MR <tspan font-size="25">(%)</tspan></text>
<text stroke="#FF0000" stroke-width="0.2" x="1168" y="86.5" font-size="27" fill="#FF0000">LC</text>
<text stroke="#000" stroke-width="0.2" x="1171.5" y="390.4" font-size="27">LO</text>
<polygon points="1260.20,283.39 1263.14,292.83 1271.99,293.07 1264.96,299.15 1267.49,308.74 1260.20,303.05 1252.91,308.74 1255.44,299.15 1248.41,293.07 1257.26,292.83" fill="#ED7D31"/>
<rect x="1251.3" y="60" width="90.20000000000005" height="150.4" fill="#fff"/>
<path d="M1251.30,196.72 L1251.45,196.72 L1251.60,196.72 L1251.75,196.72 L1251.90,196.72 L1252.05,196.72 L1252.20,196.72 L1252.35,196.72 L1252.50,196.72 L1252.66,196.72 L1252.81,196.72 L1252.96,196.72 L1253.11,196.72 L1253.26,196.72 L1253.41,196.72 L1253.56,196.72 L1253.71,196.72 L1253.86,196.72 L1254.01,196.72 L1254.16,196.72 L1254.31,196.72 L1254.46,196.72 L1254.61,196.72 L1254.76,196.72 L1254.91,196.71 L1255.06,196.71 L1255.22,196.71 L1255.37,196.71 L1255.52,196.71 L1255.67,196.71 L1255.82,196.71 L1255.97,196.71 L1256.12,196.71 L1256.27,196.71 L1256.42,196.71 L1256.57,196.71 L1256.72,196.71 L1256.87,196.71 L1257.02,196.71 L1257.17,196.71 L1257.32,196.71 L1257.47,196.70 L1257.62,196.70 L1257.78,196.70 L1257.93,196.70 L1258.08,196.70 L1258.23,196.70 L1258.38,196.70 L1258.53,196.70 L1258.68,196.70 L1258.83,196.70 L1258.98,196.70 L1259.13,196.69 L1259.28,196.69 L1259.43,196.69 L1259.58,196.69 L1259.73,196.69 L1259.88,196.69 L1260.03,196.69 L1260.18,196.69 L1260.34,196.68 L1260.49,196.68 L1260.64,196.68 L1260.79,196.68 L1260.94,196.68 L1261.09,196.68 L1261.24,196.67 L1261.39,196.67 L1261.54,196.67 L1261.69,196.67 L1261.84,196.67 L1261.99,196.66 L1262.14,196.66 L1262.29,196.66 L1262.44,196.66 L1262.59,196.65 L1262.74,196.65 L1262.89,196.65 L1263.05,196.65 L1263.20,196.64 L1263.35,196.64 L1263.50,196.64 L1263.65,196.63 L1263.80,196.63 L1263.95,196.63 L1264.10,196.62 L1264.25,196.62 L1264.40,196.62 L1264.55,196.61 L1264.70,196.61 L1264.85,196.60 L1265.00,196.60 L1265.15,196.60 L1265.30,196.59 L1265.45,196.59 L1265.61,196.58 L1265.76,196.58 L1265.91,196.57 L1266.06,196.57 L1266.21,196.56 L1266.36,196.55 L1266.51,196.55 L1266.66,196.54 L1266.81,196.54 L1266.96,196.53 L1267.11,196.52 L1267.26,196.51 L1267.41,196.51 L1267.56,196.50 L1267.71,196.49 L1267.86,196.48 L1268.01,196.48 L1268.17,196.47 L1268.32,196.46 L1268.47,196.45 L1268.62,196.44 L1268.77,196.43 L1268.92,196.42 L1269.07,196.41 L1269.22,196.40 L1269.37,196.38 L1269.52,196.37 L1269.67,196.36 L1269.82,196.35 L1269.97,196.33 L1270.12,196.32 L1270.27,196.31 L1270.42,196.29 L1270.57,196.28 L1270.73,196.26 L1270.88,196.25 L1271.03,196.23 L1271.18,196.21 L1271.33,196.19 L1271.48,196.18 L1271.63,196.16 L1271.78,196.14 L1271.93,196.12 L1272.08,196.10 L1272.23,196.07 L1272.38,196.05 L1272.53,196.03 L1272.68,196.00 L1272.83,195.98 L1272.98,195.95 L1273.13,195.93 L1273.29,195.90 L1273.44,195.87 L1273.59,195.84 L1273.74,195.81 L1273.89,195.78 L1274.04,195.75 L1274.19,195.72 L1274.34,195.68 L1274.49,195.65 L1274.64,195.61 L1274.79,195.57 L1274.94,195.53 L1275.09,195.49 L1275.24,195.45 L1275.39,195.41 L1275.54,195.36 L1275.69,195.32 L1275.85,195.27 L1276.00,195.22 L1276.15,195.17 L1276.30,195.12 L1276.45,195.07 L1276.60,195.01 L1276.75,194.96 L1276.90,194.90 L1277.05,194.84 L1277.20,194.77 L1277.35,194.71 L1277.50,194.64 L1277.65,194.58 L1277.80,194.51 L1277.95,194.43 L1278.10,194.36 L1278.25,194.28 L1278.41,194.20 L1278.56,194.12 L1278.71,194.04 L1278.86,193.95 L1279.01,193.86 L1279.16,193.77 L1279.31,193.67 L1279.46,193.57 L1279.61,193.47 L1279.76,193.37 L1279.91,193.26 L1280.06,193.15 L1280.21,193.04 L1280.36,192.92 L1280.51,192.80 L1280.66,192.68 L1280.81,192.55 L1280.97,192.42 L1281.12,192.29 L1281.27,192.15 L1281.42,192.01 L1281.57,191.86 L1281.72,191.71 L1281.87,191.56 L1282.02,191.40 L1282.17,191.24 L1282.32,191.07 L1282.47,190.89 L1282.62,190.72 L1282.77,190.53 L1282.92,190.35 L1283.07,190.15 L1283.22,189.95 L1283.37,189.75 L1283.53,189.54 L1283.68,189.32 L1283.83,189.10 L1283.98,188.88 L1284.13,188.64 L1284.28,188.40 L1284.43,188.16 L1284.58,187.90 L1284.73,187.64 L1284.88,187.37 L1285.03,187.10 L1285.18,186.82 L1285.33,186.53 L1285.48,186.23 L1285.63,185.92 L1285.78,185.61 L1285.93,185.29 L1286.08,184.96 L1286.24,184.62 L1286.39,184.27 L1286.54,183.91 L1286.69,183.55 L1286.84,183.17 L1286.99,182.78 L1287.14,182.39 L1287.29,181.98 L1287.44,181.56 L1287.59,181.14 L1287.74,180.70 L1287.89,180.25 L1288.04,179.79 L1288.19,179.32 L1288.34,178.84 L1288.49,178.34 L1288.64,177.84 L1288.80,177.32 L1288.95,176.79 L1289.10,176.24 L1289.25,175.69 L1289.40,175.12 L1289.55,174.54 L1289.70,173.94 L1289.85,173.33 L1290.00,172.71 L1290.15,172.08 L1290.30,171.43 L1290.45,170.77 L1290.60,170.10 L1290.75,169.41 L1290.90,168.71 L1291.05,167.99 L1291.20,167.26 L1291.36,166.52 L1291.51,165.76 L1291.66,164.99 L1291.81,164.21 L1291.96,163.41 L1292.11,162.60 L1292.26,161.77 L1292.41,160.94 L1292.56,160.09 L1292.71,159.23 L1292.86,158.35 L1293.01,157.46 L1293.16,156.57 L1293.31,155.66 L1293.46,154.74 L1293.61,153.80 L1293.76,152.86 L1293.92,151.91 L1294.07,150.95 L1294.22,149.97 L1294.37,148.99 L1294.52,148.00 L1294.67,147.01 L1294.82,146.00 L1294.97,144.99 L1295.12,143.98 L1295.27,142.95 L1295.42,141.92 L1295.57,140.89 L1295.72,139.85 L1295.87,138.81 L1296.02,137.77 L1296.17,136.73 L1296.32,135.68 L1296.48,134.63 L1296.63,133.58 L1296.78,132.54 L1296.93,131.49 L1297.08,130.44 L1297.23,129.40 L1297.38,128.36 L1297.53,127.32 L1297.68,126.29 L1297.83,125.26 L1297.98,124.24 L1298.13,123.22 L1298.28,122.21 L1298.43,121.21 L1298.58,120.21 L1298.73,119.23 L1298.88,118.25 L1299.04,117.27 L1299.19,116.31 L1299.34,115.36 L1299.49,114.42 L1299.64,113.49 L1299.79,112.57 L1299.94,111.66 L1300.09,110.76 L1300.24,109.88 L1300.39,109.01 L1300.54,108.15 L1300.69,107.30 L1300.84,106.47 L1300.99,105.64 L1301.14,104.84 L1301.29,104.04 L1301.44,103.26 L1301.60,102.49 L1301.75,101.74 L1301.90,101.00 L1302.05,100.28 L1302.20,99.57 L1302.35,98.87 L1302.50,98.19 L1302.65,97.52 L1302.80,96.86 L1302.95,96.22 L1303.10,95.59 L1303.25,94.98 L1303.40,94.38 L1303.55,93.79 L1303.70,93.22 L1303.85,92.66 L1304.00,92.11 L1304.16,91.58 L1304.31,91.06 L1304.46,90.55 L1304.61,90.05 L1304.76,89.57 L1304.91,89.10 L1305.06,88.64 L1305.21,88.19 L1305.36,87.76 L1305.51,87.33 L1305.66,86.92 L1305.81,86.52 L1305.96,86.13 L1306.11,85.75 L1306.26,85.38 L1306.41,85.02 L1306.56,84.67 L1306.72,84.33 L1306.87,84.00 L1307.02,83.67 L1307.17,83.36 L1307.32,83.06 L1307.47,82.77 L1307.62,82.48 L1307.77,82.20 L1307.92,81.93 L1308.07,81.67 L1308.22,81.42 L1308.37,81.17 L1308.52,80.93 L1308.67,80.70 L1308.82,80.48 L1308.97,80.26 L1309.12,80.05 L1309.27,79.84 L1309.43,79.65 L1309.58,79.45 L1309.73,79.27 L1309.88,79.09 L1310.03,78.91 L1310.18,78.74 L1310.33,78.58 L1310.48,78.42 L1310.63,78.27 L1310.78,78.12 L1310.93,77.97 L1311.08,77.83 L1311.23,77.70 L1311.38,77.57 L1311.53,77.44 L1311.68,77.32 L1311.83,77.20 L1311.99,77.08 L1312.14,76.97 L1312.29,76.86 L1312.44,76.76 L1312.59,76.66 L1312.74,76.56 L1312.89,76.46 L1313.04,76.37 L1313.19,76.28 L1313.34,76.20 L1313.49,76.12 L1313.64,76.04 L1313.79,75.96 L1313.94,75.88 L1314.09,75.81 L1314.24,75.74 L1314.39,75.67 L1314.55,75.61 L1314.70,75.54 L1314.85,75.48 L1315.00,75.42 L1315.15,75.37 L1315.30,75.31 L1315.45,75.26 L1315.60,75.20 L1315.75,75.15 L1315.90,75.11 L1316.05,75.06 L1316.20,75.01 L1316.35,74.97 L1316.50,74.93 L1316.65,74.89 L1316.80,74.85 L1316.95,74.81 L1317.11,74.77 L1317.26,74.74 L1317.41,74.70 L1317.56,74.67 L1317.71,74.64 L1317.86,74.61 L1318.01,74.58 L1318.16,74.55 L1318.31,74.52 L1318.46,74.49 L1318.61,74.46 L1318.76,74.44 L1318.91,74.41 L1319.06,74.39 L1319.21,74.37 L1319.36,74.35 L1319.51,74.32 L1319.67,74.30 L1319.82,74.28 L1319.97,74.26 L1320.12,74.25 L1320.27,74.23 L1320.42,74.21 L1320.57,74.19 L1320.72,74.18 L1320.87,74.16 L1321.02,74.15 L1321.17,74.13 L1321.32,74.12 L1321.47,74.10 L1321.62,74.09 L1321.77,74.08 L1321.92,74.07 L1322.07,74.05 L1322.23,74.04 L1322.38,74.03 L1322.53,74.02 L1322.68,74.01 L1322.83,74.00 L1322.98,73.99 L1323.13,73.98 L1323.28,73.97 L1323.43,73.96 L1323.58,73.95 L1323.73,73.95 L1323.88,73.94 L1324.03,73.93 L1324.18,73.92 L1324.33,73.92 L1324.48,73.91 L1324.63,73.90 L1324.79,73.90 L1324.94,73.89 L1325.09,73.88 L1325.24,73.88 L1325.39,73.87 L1325.54,73.87 L1325.69,73.86 L1325.84,73.86 L1325.99,73.85 L1326.14,73.85 L1326.29,73.84 L1326.44,73.84 L1326.59,73.83 L1326.74,73.83 L1326.89,73.83 L1327.04,73.82 L1327.19,73.82 L1327.35,73.81 L1327.50,73.81 L1327.65,73.81 L1327.80,73.80 L1327.95,73.80 L1328.10,73.80 L1328.25,73.80 L1328.40,73.79 L1328.55,73.79 L1328.70,73.79 L1328.85,73.78 L1329.00,73.78 L1329.15,73.78 L1329.30,73.78 L1329.45,73.78 L1329.60,73.77 L1329.75,73.77 L1329.91,73.77 L1330.06,73.77 L1330.21,73.77 L1330.36,73.76 L1330.51,73.76 L1330.66,73.76 L1330.81,73.76 L1330.96,73.76 L1331.11,73.76 L1331.26,73.75 L1331.41,73.75 L1331.56,73.75 L1331.71,73.75 L1331.86,73.75 L1332.01,73.75 L1332.16,73.75 L1332.31,73.75 L1332.46,73.74 L1332.62,73.74 L1332.77,73.74 L1332.92,73.74 L1333.07,73.74 L1333.22,73.74 L1333.37,73.74 L1333.52,73.74 L1333.67,73.74 L1333.82,73.74 L1333.97,73.74 L1334.12,73.73 L1334.27,73.73 L1334.42,73.73 L1334.57,73.73 L1334.72,73.73 L1334.87,73.73 L1335.02,73.73 L1335.18,73.73 L1335.33,73.73 L1335.48,73.73 L1335.63,73.73 L1335.78,73.73 L1335.93,73.73 L1336.08,73.73 L1336.23,73.73 L1336.38,73.73 L1336.53,73.73 L1336.68,73.73 L1336.83,73.72 L1336.98,73.72 L1337.13,73.72 L1337.28,73.72 L1337.43,73.72 L1337.58,73.72 L1337.74,73.72 L1337.89,73.72 L1338.04,73.72 L1338.19,73.72 L1338.34,73.72 L1338.49,73.72 L1338.64,73.72 L1338.79,73.72 L1338.94,73.72 L1339.09,73.72 L1339.24,73.72 L1339.39,73.72 L1339.54,73.72 L1339.69,73.72 L1339.84,73.72 L1339.99,73.72 L1340.14,73.72 L1340.30,73.72 L1340.45,73.72 L1340.60,73.72 L1340.75,73.72 L1340.90,73.72 L1341.05,73.72 L1341.20,73.72 L1341.35,73.72 L1341.50,73.72" fill="none" stroke="#FF0000" stroke-width="3.0" stroke-linejoin="round" clip-path="url(#ci)"/>
<line x1="1315.42" y1="64.7" x2="1315.42" y2="210.4" stroke="#008000" stroke-width="2.4" stroke-dasharray="5.5 3.5"/>
<rect x="1251.3" y="60" width="90.20000000000005" height="150.4" fill="none" stroke="#000" stroke-width="1.4"/>
<path d="M1251.3,196.73 L1245.3,196.73 M1251.3,169.38 L1245.3,169.38 M1251.3,142.04 L1245.3,142.04 M1251.3,114.69 L1245.3,114.69 M1251.3,87.35 L1245.3,87.35 M1251.3,60.00 L1245.3,60.00 M1251.3,183.05 L1248.3,183.05 M1251.3,155.71 L1248.3,155.71 M1251.3,128.36 L1248.3,128.36 M1251.3,101.02 L1248.3,101.02 M1251.3,73.67 L1248.3,73.67" stroke="#000" stroke-width="1.4" fill="none"/>
<path d="M1291.39,210.4 L1291.39,214.4 M1315.42,210.4 L1315.42,214.4" stroke="#000" stroke-width="1.4"/>
<text stroke="#000" stroke-width="0.2" x="1241.8" y="202.93" font-size="18.5" text-anchor="end">1</text>
<text stroke="#000" stroke-width="0.2" x="1241.8" y="175.58" font-size="18.5" text-anchor="end">2</text>
<text stroke="#000" stroke-width="0.2" x="1241.8" y="148.24" font-size="18.5" text-anchor="end">3</text>
<text stroke="#000" stroke-width="0.2" x="1241.8" y="120.89" font-size="18.5" text-anchor="end">4</text>
<text stroke="#000" stroke-width="0.2" x="1241.8" y="93.55" font-size="18.5" text-anchor="end">5</text>
<text stroke="#000" stroke-width="0.2" x="1241.8" y="66.20" font-size="18.5" text-anchor="end">6</text>
<text stroke="#000" stroke-width="0.2" x="1291.89" y="235.3" font-size="18.5" text-anchor="middle">1</text>
<text stroke="#000" stroke-width="0.2" x="1299" y="235.3" font-size="18.5">250</text>
<text stroke="#000" stroke-width="0.2" x="1272.5" y="256.5" font-size="21.5">r<tspan font-size="14.5" dy="5">b</tspan><tspan dy="-5">/r</tspan><tspan font-size="14.5" dy="5">s</tspan></text>
<text stroke="#000" stroke-width="0.2" transform="translate(1226.6,152.3) rotate(-90)" font-size="16">LC/LO</text>
</svg></body></html>
